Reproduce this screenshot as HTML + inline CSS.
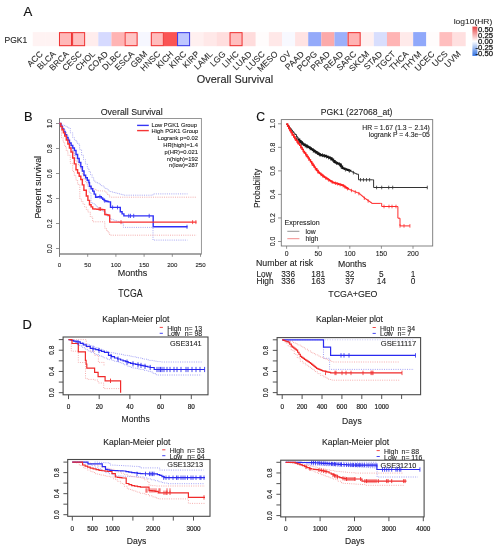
<!DOCTYPE html>
<html><head><meta charset="utf-8"><style>
html,body{margin:0;padding:0;background:#fff;width:496px;height:550px;overflow:hidden}
svg text{font-family:"Liberation Sans", sans-serif}
svg{filter:blur(0.3px)}
</style></head><body>
<svg width="496" height="550" viewBox="0 0 496 550" style="display:block" font-family='"Liberation Sans", sans-serif'><text x="23.60" y="15.60" font-size="13.2" text-anchor="start" fill="#111" stroke="#111" stroke-width="0.15">A</text>
<text x="4.50" y="42.50" font-size="8.5" text-anchor="start" fill="#222" stroke="#222" stroke-width="0.1">PGK1</text>
<rect x="32.70" y="32.10" width="13.17" height="14.10" fill="#fff3f3" stroke="none" stroke-width="1"/>
<rect x="45.82" y="32.10" width="13.17" height="14.10" fill="#fff3f3" stroke="none" stroke-width="1"/>
<rect x="58.94" y="32.10" width="13.17" height="14.10" fill="#ffb8b8" stroke="none" stroke-width="1"/>
<rect x="72.06" y="32.10" width="13.17" height="14.10" fill="#ffc0c0" stroke="none" stroke-width="1"/>
<rect x="85.18" y="32.10" width="13.17" height="14.10" fill="#ffeded" stroke="none" stroke-width="1"/>
<rect x="98.30" y="32.10" width="13.17" height="14.10" fill="#d6daff" stroke="none" stroke-width="1"/>
<rect x="111.42" y="32.10" width="13.17" height="14.10" fill="#ffb4b4" stroke="none" stroke-width="1"/>
<rect x="124.54" y="32.10" width="13.17" height="14.10" fill="#ffc4c4" stroke="none" stroke-width="1"/>
<rect x="137.66" y="32.10" width="13.17" height="14.10" fill="#f6f7ff" stroke="none" stroke-width="1"/>
<rect x="150.78" y="32.10" width="13.17" height="14.10" fill="#ffbcbc" stroke="none" stroke-width="1"/>
<rect x="163.90" y="32.10" width="13.17" height="14.10" fill="#fa5454" stroke="none" stroke-width="1"/>
<rect x="177.02" y="32.10" width="13.17" height="14.10" fill="#bec6ff" stroke="none" stroke-width="1"/>
<rect x="190.14" y="32.10" width="13.17" height="14.10" fill="#fff0f0" stroke="none" stroke-width="1"/>
<rect x="203.26" y="32.10" width="13.17" height="14.10" fill="#ffe8e8" stroke="none" stroke-width="1"/>
<rect x="216.38" y="32.10" width="13.17" height="14.10" fill="#ffdede" stroke="none" stroke-width="1"/>
<rect x="229.50" y="32.10" width="13.17" height="14.10" fill="#ffbebe" stroke="none" stroke-width="1"/>
<rect x="242.62" y="32.10" width="13.17" height="14.10" fill="#ffdcdc" stroke="none" stroke-width="1"/>
<rect x="255.74" y="32.10" width="13.17" height="14.10" fill="#fffcfc" stroke="none" stroke-width="1"/>
<rect x="268.86" y="32.10" width="13.17" height="14.10" fill="#ffe8e8" stroke="none" stroke-width="1"/>
<rect x="281.98" y="32.10" width="13.17" height="14.10" fill="#f8f9ff" stroke="none" stroke-width="1"/>
<rect x="295.10" y="32.10" width="13.17" height="14.10" fill="#ffe3e3" stroke="none" stroke-width="1"/>
<rect x="308.22" y="32.10" width="13.17" height="14.10" fill="#94aafa" stroke="none" stroke-width="1"/>
<rect x="321.34" y="32.10" width="13.17" height="14.10" fill="#fcaaaa" stroke="none" stroke-width="1"/>
<rect x="334.46" y="32.10" width="13.17" height="14.10" fill="#9cb0fa" stroke="none" stroke-width="1"/>
<rect x="347.58" y="32.10" width="13.17" height="14.10" fill="#ffb2b2" stroke="none" stroke-width="1"/>
<rect x="360.70" y="32.10" width="13.17" height="14.10" fill="#fff0f0" stroke="none" stroke-width="1"/>
<rect x="373.82" y="32.10" width="13.17" height="14.10" fill="#d8defd" stroke="none" stroke-width="1"/>
<rect x="386.94" y="32.10" width="13.17" height="14.10" fill="#ffb4b4" stroke="none" stroke-width="1"/>
<rect x="400.06" y="32.10" width="13.17" height="14.10" fill="#ffeaea" stroke="none" stroke-width="1"/>
<rect x="413.18" y="32.10" width="13.17" height="14.10" fill="#90a8fa" stroke="none" stroke-width="1"/>
<rect x="426.30" y="32.10" width="13.17" height="14.10" fill="#fffcfc" stroke="none" stroke-width="1"/>
<rect x="439.42" y="32.10" width="13.17" height="14.10" fill="#ffbebe" stroke="none" stroke-width="1"/>
<rect x="452.54" y="32.10" width="13.17" height="14.10" fill="#ffe0e0" stroke="none" stroke-width="1"/>
<rect x="59.49" y="32.65" width="12.02" height="13.00" fill="none" stroke="#ee3434" stroke-width="1.0"/>
<rect x="72.61" y="32.65" width="12.02" height="13.00" fill="none" stroke="#ee3434" stroke-width="1.0"/>
<rect x="125.09" y="32.65" width="12.02" height="13.00" fill="none" stroke="#ee3434" stroke-width="1.0"/>
<rect x="151.33" y="32.65" width="12.02" height="13.00" fill="none" stroke="#ee3434" stroke-width="1.0"/>
<rect x="177.57" y="32.65" width="12.02" height="13.00" fill="none" stroke="#3a3ae6" stroke-width="1.0"/>
<rect x="230.05" y="32.65" width="12.02" height="13.00" fill="none" stroke="#ee3434" stroke-width="1.0"/>
<rect x="348.13" y="32.65" width="12.02" height="13.00" fill="none" stroke="#ee3434" stroke-width="1.0"/>
<text x="43.26" y="54.60" font-size="8.5" text-anchor="end" fill="#2a2a2a" stroke="#2a2a2a" stroke-width="0.1" transform="rotate(-45 43.260000000000005 54.6)">ACC</text>
<text x="56.33" y="54.60" font-size="8.5" text-anchor="end" fill="#2a2a2a" stroke="#2a2a2a" stroke-width="0.1" transform="rotate(-45 56.325 54.6)">BLCA</text>
<text x="69.39" y="54.60" font-size="8.5" text-anchor="end" fill="#2a2a2a" stroke="#2a2a2a" stroke-width="0.1" transform="rotate(-45 69.39 54.6)">BRCA</text>
<text x="82.46" y="54.60" font-size="8.5" text-anchor="end" fill="#2a2a2a" stroke="#2a2a2a" stroke-width="0.1" transform="rotate(-45 82.45500000000001 54.6)">CESC</text>
<text x="95.52" y="54.60" font-size="8.5" text-anchor="end" fill="#2a2a2a" stroke="#2a2a2a" stroke-width="0.1" transform="rotate(-45 95.52000000000001 54.6)">CHOL</text>
<text x="108.59" y="54.60" font-size="8.5" text-anchor="end" fill="#2a2a2a" stroke="#2a2a2a" stroke-width="0.1" transform="rotate(-45 108.58500000000001 54.6)">COAD</text>
<text x="121.65" y="54.60" font-size="8.5" text-anchor="end" fill="#2a2a2a" stroke="#2a2a2a" stroke-width="0.1" transform="rotate(-45 121.65 54.6)">DLBC</text>
<text x="134.72" y="54.60" font-size="8.5" text-anchor="end" fill="#2a2a2a" stroke="#2a2a2a" stroke-width="0.1" transform="rotate(-45 134.715 54.6)">ESCA</text>
<text x="147.78" y="54.60" font-size="8.5" text-anchor="end" fill="#2a2a2a" stroke="#2a2a2a" stroke-width="0.1" transform="rotate(-45 147.78 54.6)">GBM</text>
<text x="160.84" y="54.60" font-size="8.5" text-anchor="end" fill="#2a2a2a" stroke="#2a2a2a" stroke-width="0.1" transform="rotate(-45 160.845 54.6)">HNSC</text>
<text x="173.91" y="54.60" font-size="8.5" text-anchor="end" fill="#2a2a2a" stroke="#2a2a2a" stroke-width="0.1" transform="rotate(-45 173.91000000000003 54.6)">KICH</text>
<text x="186.98" y="54.60" font-size="8.5" text-anchor="end" fill="#2a2a2a" stroke="#2a2a2a" stroke-width="0.1" transform="rotate(-45 186.97500000000002 54.6)">KIRC</text>
<text x="200.04" y="54.60" font-size="8.5" text-anchor="end" fill="#2a2a2a" stroke="#2a2a2a" stroke-width="0.1" transform="rotate(-45 200.04000000000002 54.6)">KIRP</text>
<text x="213.11" y="54.60" font-size="8.5" text-anchor="end" fill="#2a2a2a" stroke="#2a2a2a" stroke-width="0.1" transform="rotate(-45 213.10500000000002 54.6)">LAML</text>
<text x="226.17" y="54.60" font-size="8.5" text-anchor="end" fill="#2a2a2a" stroke="#2a2a2a" stroke-width="0.1" transform="rotate(-45 226.17000000000002 54.6)">LGG</text>
<text x="239.24" y="54.60" font-size="8.5" text-anchor="end" fill="#2a2a2a" stroke="#2a2a2a" stroke-width="0.1" transform="rotate(-45 239.235 54.6)">LIHC</text>
<text x="252.30" y="54.60" font-size="8.5" text-anchor="end" fill="#2a2a2a" stroke="#2a2a2a" stroke-width="0.1" transform="rotate(-45 252.3 54.6)">LUAD</text>
<text x="265.37" y="54.60" font-size="8.5" text-anchor="end" fill="#2a2a2a" stroke="#2a2a2a" stroke-width="0.1" transform="rotate(-45 265.365 54.6)">LUSC</text>
<text x="278.43" y="54.60" font-size="8.5" text-anchor="end" fill="#2a2a2a" stroke="#2a2a2a" stroke-width="0.1" transform="rotate(-45 278.43 54.6)">MESO</text>
<text x="291.50" y="54.60" font-size="8.5" text-anchor="end" fill="#2a2a2a" stroke="#2a2a2a" stroke-width="0.1" transform="rotate(-45 291.495 54.6)">OV</text>
<text x="304.56" y="54.60" font-size="8.5" text-anchor="end" fill="#2a2a2a" stroke="#2a2a2a" stroke-width="0.1" transform="rotate(-45 304.56 54.6)">PAAD</text>
<text x="317.62" y="54.60" font-size="8.5" text-anchor="end" fill="#2a2a2a" stroke="#2a2a2a" stroke-width="0.1" transform="rotate(-45 317.625 54.6)">PCPG</text>
<text x="330.69" y="54.60" font-size="8.5" text-anchor="end" fill="#2a2a2a" stroke="#2a2a2a" stroke-width="0.1" transform="rotate(-45 330.69 54.6)">PRAD</text>
<text x="343.75" y="54.60" font-size="8.5" text-anchor="end" fill="#2a2a2a" stroke="#2a2a2a" stroke-width="0.1" transform="rotate(-45 343.755 54.6)">READ</text>
<text x="356.82" y="54.60" font-size="8.5" text-anchor="end" fill="#2a2a2a" stroke="#2a2a2a" stroke-width="0.1" transform="rotate(-45 356.82 54.6)">SARC</text>
<text x="369.88" y="54.60" font-size="8.5" text-anchor="end" fill="#2a2a2a" stroke="#2a2a2a" stroke-width="0.1" transform="rotate(-45 369.885 54.6)">SKCM</text>
<text x="382.95" y="54.60" font-size="8.5" text-anchor="end" fill="#2a2a2a" stroke="#2a2a2a" stroke-width="0.1" transform="rotate(-45 382.95 54.6)">STAD</text>
<text x="396.01" y="54.60" font-size="8.5" text-anchor="end" fill="#2a2a2a" stroke="#2a2a2a" stroke-width="0.1" transform="rotate(-45 396.015 54.6)">TGCT</text>
<text x="409.08" y="54.60" font-size="8.5" text-anchor="end" fill="#2a2a2a" stroke="#2a2a2a" stroke-width="0.1" transform="rotate(-45 409.08 54.6)">THCA</text>
<text x="422.14" y="54.60" font-size="8.5" text-anchor="end" fill="#2a2a2a" stroke="#2a2a2a" stroke-width="0.1" transform="rotate(-45 422.145 54.6)">THYM</text>
<text x="435.21" y="54.60" font-size="8.5" text-anchor="end" fill="#2a2a2a" stroke="#2a2a2a" stroke-width="0.1" transform="rotate(-45 435.21 54.6)">UCEC</text>
<text x="448.27" y="54.60" font-size="8.5" text-anchor="end" fill="#2a2a2a" stroke="#2a2a2a" stroke-width="0.1" transform="rotate(-45 448.275 54.6)">UCS</text>
<text x="461.34" y="54.60" font-size="8.5" text-anchor="end" fill="#2a2a2a" stroke="#2a2a2a" stroke-width="0.1" transform="rotate(-45 461.34 54.6)">UVM</text>
<text x="235.00" y="83.40" font-size="10.9" text-anchor="middle" fill="#222" stroke="#222" stroke-width="0.1">Overall Survival</text>
<defs><linearGradient id="cb" x1="0" y1="0" x2="0" y2="1"><stop offset="0" stop-color="#e64646"/><stop offset="0.5" stop-color="#ffffff"/><stop offset="1" stop-color="#2e6fe0"/></linearGradient></defs>
<rect x="472.40" y="26.60" width="5.00" height="29.30" fill="url(#cb)" stroke="none" stroke-width="1"/>
<text x="492.30" y="23.60" font-size="8.0" text-anchor="end" fill="#2a2a2a" stroke="#2a2a2a" stroke-width="0.1" textLength="38.6" lengthAdjust="spacingAndGlyphs">log10(HR)</text>
<text x="493.00" y="32.00" font-size="7.7" text-anchor="end" fill="#111" stroke="#111" stroke-width="0.25">0.50</text>
<text x="493.00" y="37.95" font-size="7.7" text-anchor="end" fill="#111" stroke="#111" stroke-width="0.25">0.25</text>
<text x="493.00" y="43.90" font-size="7.7" text-anchor="end" fill="#111" stroke="#111" stroke-width="0.25">0.00</text>
<text x="493.00" y="49.85" font-size="7.7" text-anchor="end" fill="#111" stroke="#111" stroke-width="0.25">-0.25</text>
<text x="493.00" y="55.80" font-size="7.7" text-anchor="end" fill="#111" stroke="#111" stroke-width="0.25">-0.50</text>
<text x="23.90" y="120.60" font-size="12.8" text-anchor="start" fill="#111" stroke="#111" stroke-width="0.15">B</text>
<text x="131.70" y="115.00" font-size="8.85" text-anchor="middle" fill="#222" stroke="#222" stroke-width="0.1">Overall Survival</text>
<rect x="59.50" y="118.50" width="141.90" height="135.50" fill="none" stroke="#8c8c8c" stroke-width="0.9"/>
<line x1="59.50" y1="254.10" x2="201.40" y2="254.10" stroke="#9a9a9a" stroke-width="1.5"/>
<line x1="59.50" y1="118.50" x2="59.50" y2="256.80" stroke="#777" stroke-width="0.9"/>
<line x1="56.00" y1="248.50" x2="59.50" y2="248.50" stroke="#777" stroke-width="0.8"/>
<text x="51.50" y="248.50" font-size="6.3" text-anchor="middle" fill="#222" stroke="#222" stroke-width="0.1" transform="rotate(-90 51.5 248.5)">0.0</text>
<line x1="56.00" y1="223.50" x2="59.50" y2="223.50" stroke="#777" stroke-width="0.8"/>
<text x="51.50" y="223.50" font-size="6.3" text-anchor="middle" fill="#222" stroke="#222" stroke-width="0.1" transform="rotate(-90 51.5 223.5)">0.2</text>
<line x1="56.00" y1="198.50" x2="59.50" y2="198.50" stroke="#777" stroke-width="0.8"/>
<text x="51.50" y="198.50" font-size="6.3" text-anchor="middle" fill="#222" stroke="#222" stroke-width="0.1" transform="rotate(-90 51.5 198.5)">0.4</text>
<line x1="56.00" y1="173.50" x2="59.50" y2="173.50" stroke="#777" stroke-width="0.8"/>
<text x="51.50" y="173.50" font-size="6.3" text-anchor="middle" fill="#222" stroke="#222" stroke-width="0.1" transform="rotate(-90 51.5 173.5)">0.6</text>
<line x1="56.00" y1="148.50" x2="59.50" y2="148.50" stroke="#777" stroke-width="0.8"/>
<text x="51.50" y="148.50" font-size="6.3" text-anchor="middle" fill="#222" stroke="#222" stroke-width="0.1" transform="rotate(-90 51.5 148.5)">0.8</text>
<line x1="56.00" y1="123.50" x2="59.50" y2="123.50" stroke="#777" stroke-width="0.8"/>
<text x="51.50" y="123.50" font-size="6.3" text-anchor="middle" fill="#222" stroke="#222" stroke-width="0.1" transform="rotate(-90 51.5 123.5)">1.0</text>
<line x1="59.50" y1="254.00" x2="59.50" y2="256.80" stroke="#777" stroke-width="0.8"/>
<text x="59.50" y="266.90" font-size="6.1" text-anchor="middle" fill="#222" stroke="#222" stroke-width="0.1">0</text>
<line x1="87.70" y1="254.00" x2="87.70" y2="256.80" stroke="#777" stroke-width="0.8"/>
<text x="87.70" y="266.90" font-size="6.1" text-anchor="middle" fill="#222" stroke="#222" stroke-width="0.1">50</text>
<line x1="115.90" y1="254.00" x2="115.90" y2="256.80" stroke="#777" stroke-width="0.8"/>
<text x="115.90" y="266.90" font-size="6.1" text-anchor="middle" fill="#222" stroke="#222" stroke-width="0.1">100</text>
<line x1="144.10" y1="254.00" x2="144.10" y2="256.80" stroke="#777" stroke-width="0.8"/>
<text x="144.10" y="266.90" font-size="6.1" text-anchor="middle" fill="#222" stroke="#222" stroke-width="0.1">150</text>
<line x1="172.30" y1="254.00" x2="172.30" y2="256.80" stroke="#777" stroke-width="0.8"/>
<text x="172.30" y="266.90" font-size="6.1" text-anchor="middle" fill="#222" stroke="#222" stroke-width="0.1">200</text>
<line x1="200.50" y1="254.00" x2="200.50" y2="256.80" stroke="#777" stroke-width="0.8"/>
<text x="200.50" y="266.90" font-size="6.1" text-anchor="middle" fill="#222" stroke="#222" stroke-width="0.1">250</text>
<text x="41.00" y="187.30" font-size="8.8" text-anchor="middle" fill="#222" stroke="#222" stroke-width="0.1" transform="rotate(-90 41 187.3)">Percent survival</text>
<text x="132.40" y="276.00" font-size="9.0" text-anchor="middle" fill="#222" stroke="#222" stroke-width="0.1">Months</text>
<text x="130.40" y="297.20" font-size="10.0" text-anchor="middle" fill="#222" stroke="#222" stroke-width="0.1" textLength="24.2" lengthAdjust="spacingAndGlyphs">TCGA</text>
<path d="M59.50,123.50 H61.18 V124.38 H62.86 V125.26 H64.54 V126.14 H66.22 V127.02 H67.90 V127.90 H70.30 V132.75 H72.70 V137.60 H74.33 V139.73 H75.97 V141.87 H77.60 V144.00 H79.60 V149.65 H81.60 V155.30 H83.50 V159.60 H85.40 V163.90 H87.30 V168.20 H88.90 V171.42 H90.50 V174.65 H92.10 V177.88 H93.70 V181.10 H95.60 V182.20 H97.50 V183.30 H99.40 V184.40 H101.30 V185.74 H103.20 V187.08 H105.10 V188.42 H107.00 V189.76 H108.90 V191.10 H110.51 V191.56 H112.12 V192.01 H113.73 V192.47 H115.34 V192.92 H116.96 V193.38 H118.57 V193.83 H120.18 V194.29 H121.79 V194.74 H123.40 V195.20 H153.00 V195.20 H153.00 V193.90 H187.50 V193.90" fill="none" stroke="#a0a0f2" stroke-width="0.9" stroke-dasharray="1,1.2"/>
<path d="M59.50,123.50 H61.23 V126.03 H62.97 V128.57 H64.70 V131.10 H66.30 V135.30 H67.90 V139.50 H69.50 V143.70 H71.10 V147.90 H72.70 V152.10 H74.32 V155.32 H75.94 V158.54 H77.56 V161.76 H79.18 V164.98 H80.80 V168.20 H82.42 V171.82 H84.05 V175.45 H85.67 V179.07 H87.30 V182.70 H89.15 V192.55 H91.00 V202.40 H92.62 V203.60 H94.25 V204.80 H95.88 V206.00 H97.50 V207.20 H99.12 V208.40 H100.75 V209.60 H102.38 V210.80 H104.00 V212.00 H105.90 V214.17 H107.80 V216.33 H109.70 V218.50 H111.43 V219.20 H113.16 V219.90 H114.89 V220.60 H116.61 V221.30 H118.34 V222.00 H120.07 V222.70 H121.80 V223.40 H123.40 V227.40 H153.00 V227.40 H153.00 V240.10 H187.50 V240.10" fill="none" stroke="#a0a0f2" stroke-width="0.9" stroke-dasharray="1,1.2"/>
<path d="M59.50,123.50 H61.23 V126.57 H62.97 V129.63 H64.70 V132.70 H66.83 V138.10 H68.97 V143.50 H71.10 V148.90 H72.73 V153.20 H74.37 V157.50 H76.00 V161.80 H78.40 V165.80 H80.80 V169.80 H82.40 V174.65 H84.00 V179.50 H85.65 V182.75 H87.30 V186.00 H88.90 V186.80 H90.50 V187.60 H92.10 V188.40 H93.70 V189.20 H95.30 V190.00 H96.90 V190.80 H98.68 V190.85 H100.45 V190.90 H102.22 V190.95 H104.00 V191.00 H105.90 V193.07 H107.80 V195.13 H109.70 V197.20 H196.50 V197.20" fill="none" stroke="#f2a4a4" stroke-width="0.9" stroke-dasharray="1,1.2"/>
<path d="M59.50,123.50 H61.50 V137.60 H63.10 V142.03 H64.70 V146.45 H66.30 V150.88 H67.90 V155.30 H70.30 V163.40 H72.70 V171.50 H74.33 V175.80 H75.97 V180.10 H77.60 V184.40 H79.80 V199.00 H81.42 V201.60 H83.04 V204.20 H84.66 V206.80 H86.28 V209.40 H87.90 V212.00 H90.30 V216.90 H92.70 V221.80 H104.00 V221.80 H104.80 V228.20 H106.43 V230.53 H108.07 V232.87 H109.70 V235.20 H196.50 V235.20" fill="none" stroke="#f2a4a4" stroke-width="0.9" stroke-dasharray="1,1.2"/>
<path d="M59.50,123.50 H60.93 V126.29 H62.36 V129.07 H63.79 V131.86 H65.21 V134.64 H66.64 V137.43 H68.07 V140.21 H69.50 V143.00 H71.13 V145.50 H72.77 V148.00 H74.40 V150.50 H76.00 V154.47 H77.60 V158.43 H79.20 V162.40 H80.80 V166.70 H82.40 V171.00 H84.00 V175.30 H85.63 V177.77 H87.27 V180.23 H88.90 V182.70 H89.50 V186.30 H91.10 V188.70 H92.70 V191.10 H94.15 V194.15 H95.60 V197.20 H97.03 V197.00 H98.47 V196.80 H99.90 V196.60 H101.30 V197.93 H102.70 V199.27 H104.10 V200.60 H105.50 V201.03 H106.90 V201.47 H108.30 V201.90 H110.50 V207.40 H118.90 V207.40 H120.30 V211.80 H122.10 V213.85 H123.90 V215.90 H153.20 V215.90 H153.20 V226.80 H187.50 V226.80" fill="none" stroke="#3030f6" stroke-width="1.4"/>
<path d="M59.50,123.50 H60.80 V126.62 H62.10 V129.75 H63.40 V132.88 H64.70 V136.00 H66.28 V140.00 H67.85 V144.00 H69.42 V148.00 H71.00 V152.00 H72.67 V157.93 H74.33 V163.87 H76.00 V169.80 H77.60 V173.03 H79.20 V176.27 H80.80 V179.50 H82.35 V184.90 H83.90 V190.30 H86.30 V196.00 H87.90 V200.40 H89.50 V204.80 H91.10 V206.85 H92.70 V208.90 H94.11 V209.00 H95.53 V209.10 H96.94 V209.20 H98.35 V209.30 H99.76 V209.40 H101.17 V209.50 H102.59 V209.60 H104.00 V209.70 H104.80 V214.50 H106.17 V214.77 H107.53 V215.03 H108.90 V215.30 H109.70 V222.10 H196.50 V222.10" fill="none" stroke="#f83030" stroke-width="1.4"/>
<line x1="128.80" y1="213.80" x2="128.80" y2="218.00" stroke="#3030f6" stroke-width="0.8"/>
<line x1="130.50" y1="213.80" x2="130.50" y2="218.00" stroke="#3030f6" stroke-width="0.8"/>
<line x1="133.70" y1="213.80" x2="133.70" y2="218.00" stroke="#3030f6" stroke-width="0.8"/>
<line x1="149.20" y1="213.80" x2="149.20" y2="218.00" stroke="#3030f6" stroke-width="0.8"/>
<line x1="99.90" y1="194.60" x2="99.90" y2="198.60" stroke="#3030f6" stroke-width="0.8"/>
<line x1="104.80" y1="198.80" x2="104.80" y2="202.80" stroke="#3030f6" stroke-width="0.8"/>
<line x1="112.60" y1="205.40" x2="112.60" y2="209.40" stroke="#3030f6" stroke-width="0.8"/>
<line x1="117.50" y1="205.40" x2="117.50" y2="209.40" stroke="#3030f6" stroke-width="0.8"/>
<line x1="187.00" y1="224.80" x2="187.00" y2="228.80" stroke="#3030f6" stroke-width="0.8"/>
<line x1="99.20" y1="207.00" x2="99.20" y2="211.00" stroke="#f83030" stroke-width="0.8"/>
<line x1="100.60" y1="207.00" x2="100.60" y2="211.00" stroke="#f83030" stroke-width="0.8"/>
<line x1="121.00" y1="220.10" x2="121.00" y2="224.10" stroke="#f83030" stroke-width="0.8"/>
<line x1="192.60" y1="220.10" x2="192.60" y2="224.10" stroke="#f83030" stroke-width="0.8"/>
<line x1="195.90" y1="220.10" x2="195.90" y2="224.10" stroke="#f83030" stroke-width="0.8"/>
<line x1="137.10" y1="125.40" x2="148.80" y2="125.40" stroke="#3535f5" stroke-width="1.4"/>
<line x1="137.10" y1="130.60" x2="148.80" y2="130.60" stroke="#f53535" stroke-width="1.4"/>
<text x="151.60" y="127.40" font-size="5.8" text-anchor="start" fill="#222" stroke="#222" stroke-width="0.1">Low PGK1 Group</text>
<text x="151.60" y="132.80" font-size="5.8" text-anchor="start" fill="#222" stroke="#222" stroke-width="0.1">High PGK1 Group</text>
<text x="197.90" y="139.70" font-size="5.8" text-anchor="end" fill="#222" stroke="#222" stroke-width="0.1">Logrank p=0.02</text>
<text x="197.90" y="146.80" font-size="5.8" text-anchor="end" fill="#222" stroke="#222" stroke-width="0.1">HR(high)=1.4</text>
<text x="197.90" y="153.60" font-size="5.8" text-anchor="end" fill="#222" stroke="#222" stroke-width="0.1">p(HR)=0.021</text>
<text x="197.90" y="160.70" font-size="5.8" text-anchor="end" fill="#222" stroke="#222" stroke-width="0.1">n(high)=192</text>
<text x="197.90" y="167.30" font-size="5.8" text-anchor="end" fill="#222" stroke="#222" stroke-width="0.1">n(low)=287</text>
<text x="256.20" y="121.30" font-size="12.2" text-anchor="start" fill="#111" stroke="#111" stroke-width="0.15">C</text>
<text x="356.60" y="114.90" font-size="8.6" text-anchor="middle" fill="#222" stroke="#222" stroke-width="0.1">PGK1 (227068_at)</text>
<rect x="281.30" y="119.60" width="151.40" height="126.40" fill="none" stroke="#777" stroke-width="0.9"/>
<line x1="278.00" y1="241.50" x2="281.30" y2="241.50" stroke="#777" stroke-width="0.8"/>
<text x="274.60" y="241.50" font-size="6.9" text-anchor="middle" fill="#222" stroke="#222" stroke-width="0.1" transform="rotate(-90 274.6 241.5)">0.0</text>
<line x1="278.00" y1="217.96" x2="281.30" y2="217.96" stroke="#777" stroke-width="0.8"/>
<text x="274.60" y="217.96" font-size="6.9" text-anchor="middle" fill="#222" stroke="#222" stroke-width="0.1" transform="rotate(-90 274.6 217.96)">0.2</text>
<line x1="278.00" y1="194.42" x2="281.30" y2="194.42" stroke="#777" stroke-width="0.8"/>
<text x="274.60" y="194.42" font-size="6.9" text-anchor="middle" fill="#222" stroke="#222" stroke-width="0.1" transform="rotate(-90 274.6 194.42000000000002)">0.4</text>
<line x1="278.00" y1="170.88" x2="281.30" y2="170.88" stroke="#777" stroke-width="0.8"/>
<text x="274.60" y="170.88" font-size="6.9" text-anchor="middle" fill="#222" stroke="#222" stroke-width="0.1" transform="rotate(-90 274.6 170.88)">0.6</text>
<line x1="278.00" y1="147.34" x2="281.30" y2="147.34" stroke="#777" stroke-width="0.8"/>
<text x="274.60" y="147.34" font-size="6.9" text-anchor="middle" fill="#222" stroke="#222" stroke-width="0.1" transform="rotate(-90 274.6 147.34)">0.8</text>
<line x1="278.00" y1="123.80" x2="281.30" y2="123.80" stroke="#777" stroke-width="0.8"/>
<text x="274.60" y="123.80" font-size="6.9" text-anchor="middle" fill="#222" stroke="#222" stroke-width="0.1" transform="rotate(-90 274.6 123.80000000000001)">1.0</text>
<line x1="286.60" y1="246.00" x2="286.60" y2="248.80" stroke="#777" stroke-width="0.8"/>
<text x="286.60" y="256.00" font-size="6.8" text-anchor="middle" fill="#222" stroke="#222" stroke-width="0.1">0</text>
<line x1="318.20" y1="246.00" x2="318.20" y2="248.80" stroke="#777" stroke-width="0.8"/>
<text x="318.20" y="256.00" font-size="6.8" text-anchor="middle" fill="#222" stroke="#222" stroke-width="0.1">50</text>
<line x1="349.80" y1="246.00" x2="349.80" y2="248.80" stroke="#777" stroke-width="0.8"/>
<text x="349.80" y="256.00" font-size="6.8" text-anchor="middle" fill="#222" stroke="#222" stroke-width="0.1">100</text>
<line x1="381.40" y1="246.00" x2="381.40" y2="248.80" stroke="#777" stroke-width="0.8"/>
<text x="381.40" y="256.00" font-size="6.8" text-anchor="middle" fill="#222" stroke="#222" stroke-width="0.1">150</text>
<line x1="413.00" y1="246.00" x2="413.00" y2="248.80" stroke="#777" stroke-width="0.8"/>
<text x="413.00" y="256.00" font-size="6.8" text-anchor="middle" fill="#222" stroke="#222" stroke-width="0.1">200</text>
<text x="260.00" y="188.40" font-size="8.4" text-anchor="middle" fill="#222" stroke="#222" stroke-width="0.1" transform="rotate(-90 260.0 188.4)">Probability</text>
<text x="429.90" y="129.60" font-size="6.8" text-anchor="end" fill="#222" stroke="#222" stroke-width="0.1">HR = 1.67 (1.3 − 2.14)</text>
<text x="429.90" y="136.60" font-size="6.8" text-anchor="end" fill="#222" stroke="#222" stroke-width="0.1">logrank P = 4.3e−05</text>
<text x="284.60" y="224.50" font-size="7.1" text-anchor="start" fill="#222" stroke="#222" stroke-width="0.1">Expression</text>
<line x1="287.30" y1="231.30" x2="299.40" y2="231.30" stroke="#888" stroke-width="0.9"/>
<line x1="287.30" y1="238.70" x2="299.40" y2="238.70" stroke="#f08080" stroke-width="0.9"/>
<text x="305.40" y="233.60" font-size="6.8" text-anchor="start" fill="#222" stroke="#222" stroke-width="0.1">low</text>
<text x="305.40" y="241.30" font-size="6.8" text-anchor="start" fill="#222" stroke="#222" stroke-width="0.1">high</text>
<text x="256.00" y="265.60" font-size="8.8" text-anchor="start" fill="#222" stroke="#222" stroke-width="0.1">Number at risk</text>
<text x="352.20" y="266.90" font-size="8.7" text-anchor="middle" fill="#222" stroke="#222" stroke-width="0.1">Months</text>
<text x="256.50" y="276.60" font-size="8.3" text-anchor="start" fill="#222" stroke="#222" stroke-width="0.1">Low</text>
<text x="256.50" y="284.40" font-size="8.3" text-anchor="start" fill="#222" stroke="#222" stroke-width="0.1">High</text>
<text x="288.10" y="276.90" font-size="8.3" text-anchor="middle" fill="#222" stroke="#222" stroke-width="0.1">336</text>
<text x="288.10" y="284.30" font-size="8.3" text-anchor="middle" fill="#222" stroke="#222" stroke-width="0.1">336</text>
<text x="318.20" y="276.90" font-size="8.3" text-anchor="middle" fill="#222" stroke="#222" stroke-width="0.1">181</text>
<text x="318.20" y="284.30" font-size="8.3" text-anchor="middle" fill="#222" stroke="#222" stroke-width="0.1">163</text>
<text x="349.80" y="276.90" font-size="8.3" text-anchor="middle" fill="#222" stroke="#222" stroke-width="0.1">32</text>
<text x="349.80" y="284.30" font-size="8.3" text-anchor="middle" fill="#222" stroke="#222" stroke-width="0.1">37</text>
<text x="381.40" y="276.90" font-size="8.3" text-anchor="middle" fill="#222" stroke="#222" stroke-width="0.1">5</text>
<text x="381.40" y="284.30" font-size="8.3" text-anchor="middle" fill="#222" stroke="#222" stroke-width="0.1">14</text>
<text x="413.00" y="276.90" font-size="8.3" text-anchor="middle" fill="#222" stroke="#222" stroke-width="0.1">1</text>
<text x="413.00" y="284.30" font-size="8.3" text-anchor="middle" fill="#222" stroke="#222" stroke-width="0.1">0</text>
<text x="352.90" y="297.40" font-size="8.8" text-anchor="middle" fill="#222" stroke="#222" stroke-width="0.1">TCGA+GEO</text>
<path d="M286.40,124.20 H287.62 V126.32 H288.83 V128.43 H290.05 V130.55 H291.27 V132.67 H292.48 V134.78 H293.70 V136.90 H294.90 V138.60 H296.10 V140.30 H297.30 V142.00 H298.50 V143.70 H299.70 V145.40 H300.90 V147.40 H302.10 V149.40 H303.30 V151.40 H304.50 V153.07 H305.70 V154.75 H306.90 V156.43 H308.10 V158.10 H309.30 V159.90 H310.50 V161.70 H311.70 V163.50 H312.90 V165.30 H314.10 V167.10 H315.43 V168.80 H316.77 V170.50 H318.10 V172.20 H319.32 V173.20 H320.54 V174.20 H321.76 V175.20 H322.98 V176.20 H324.20 V177.20 H325.55 V178.05 H326.90 V178.90 H328.25 V179.75 H329.60 V180.60 H330.95 V181.45 H332.30 V182.30 H333.55 V182.68 H334.80 V183.05 H336.05 V183.43 H337.30 V183.80 H338.55 V184.18 H339.80 V184.55 H341.05 V184.93 H342.30 V185.30 H343.52 V186.10 H344.74 V186.90 H345.96 V187.70 H347.18 V188.50 H348.40 V189.30 H349.66 V189.80 H350.92 V190.30 H352.19 V190.80 H353.45 V191.30 H354.71 V191.80 H355.98 V192.30 H357.24 V192.80 H358.50 V193.30 H359.70 V194.32 H360.90 V195.34 H362.10 V196.36 H363.30 V197.38 H364.50 V198.40 H365.92 V199.40 H367.34 V200.40 H368.76 V201.40 H370.18 V202.40 H371.60 V203.40 H380.60 V203.40 H381.70 V206.50 H396.80 V206.50 H397.90 V218.20 H400.00 V225.90 H409.90 V225.90" fill="none" stroke="#ff2a2a" stroke-width="1.0"/>
<path d="M286.40,124.20 H287.62 V126.32 H288.83 V128.43 H290.05 V130.55 H291.27 V132.67 H292.48 V134.78 H293.70 V136.90 H294.90 V138.60 H296.10 V140.30 H297.30 V142.00 H298.50 V143.70 H299.70 V145.40 H300.90 V147.40 H302.10 V149.40 H303.30 V151.40 H304.50 V153.07 H305.70 V154.75 H306.90 V156.43 H308.10 V158.10 H309.30 V159.90 H310.50 V161.70 H311.70 V163.50 H312.90 V165.30 H314.10 V167.10 H315.43 V168.80 H316.77 V170.50 H318.10 V172.20 H319.32 V173.20 H320.54 V174.20 H321.76 V175.20 H322.98 V176.20 H324.20 V177.20 H325.55 V178.05 H326.90 V178.90 H328.25 V179.75 H329.60 V180.60 H330.95 V181.45 H332.30 V182.30 H333.55 V182.68 H334.80 V183.05 H336.05 V183.43 H337.30 V183.80 H338.55 V184.18 H339.80 V184.55 H341.05 V184.93 H342.30 V185.30 H343.52 V186.10 H344.74 V186.90 H345.96 V187.70 H347.18 V188.50 H348.40 V189.30" fill="none" stroke="#ff1a1a" stroke-width="1.4"/>
<path d="M286.40,124.20 H287.60 V125.63 H288.80 V127.07 H290.00 V128.50 H291.23 V130.00 H292.45 V131.50 H293.67 V133.00 H294.90 V134.50 H296.45 V137.00 H298.00 V139.50 H299.37 V140.87 H300.73 V142.23 H302.10 V143.60 H303.32 V144.32 H304.54 V145.04 H305.76 V145.76 H306.98 V146.48 H308.20 V147.20 H309.64 V148.16 H311.08 V149.12 H312.52 V150.08 H313.96 V151.04 H315.40 V152.00 H316.60 V152.75 H317.80 V153.50 H319.00 V154.25 H320.20 V155.00 H321.43 V155.25 H322.65 V155.50 H323.88 V155.75 H325.10 V156.00 H326.38 V156.53 H327.65 V157.05 H328.93 V157.57 H330.20 V158.10 H331.73 V159.50 H333.27 V160.90 H334.80 V162.30 H336.00 V162.85 H337.20 V163.40 H338.40 V163.95 H339.60 V164.50 H340.95 V166.30 H342.30 V168.10 H343.65 V168.62 H345.00 V169.13 H346.35 V169.65 H347.70 V170.17 H349.05 V170.68 H350.40 V171.20 H351.62 V171.80 H352.84 V172.40 H354.06 V173.00 H355.28 V173.60 H356.50 V174.20 H358.50 V179.80 H372.60 V179.80 H373.60 V187.50 H427.30 V187.50" fill="none" stroke="#333" stroke-width="1.0"/>
<path d="M298.00,139.50 H299.37 V140.87 H300.73 V142.23 H302.10 V143.60 H303.32 V144.32 H304.54 V145.04 H305.76 V145.76 H306.98 V146.48 H308.20 V147.20 H309.64 V148.16 H311.08 V149.12 H312.52 V150.08 H313.96 V151.04 H315.40 V152.00 H316.60 V152.75 H317.80 V153.50 H319.00 V154.25 H320.20 V155.00 H321.43 V155.25 H322.65 V155.50 H323.88 V155.75 H325.10 V156.00 H326.38 V156.53 H327.65 V157.05 H328.93 V157.57 H330.20 V158.10 H331.73 V159.50 H333.27 V160.90 H334.80 V162.30 H336.00 V162.85 H337.20 V163.40 H338.40 V163.95 H339.60 V164.50 H340.95 V166.30 H342.30 V168.10 H343.65 V168.62 H345.00 V169.13 H346.35 V169.65 H347.70 V170.17 H349.05 V170.68 H350.40 V171.20" fill="none" stroke="#111" stroke-width="1.8"/>
<path d="M286.40,124.20 H287.62 V126.32 H288.83 V128.43 H290.05 V130.55 H291.27 V132.67 H292.48 V134.78 H293.70 V136.90 H294.90 V138.60 H296.10 V140.30 H297.30 V142.00 H298.50 V143.70 H299.70 V145.40" fill="none" stroke="#ff2020" stroke-width="1.3"/>
<line x1="297.00" y1="135.88" x2="297.00" y2="139.58" stroke="#222" stroke-width="0.8"/>
<line x1="299.64" y1="138.98" x2="299.64" y2="143.06" stroke="#222" stroke-width="0.8"/>
<line x1="301.83" y1="141.16" x2="301.83" y2="145.23" stroke="#222" stroke-width="0.8"/>
<line x1="303.49" y1="142.48" x2="303.49" y2="146.06" stroke="#222" stroke-width="0.8"/>
<line x1="305.23" y1="143.50" x2="305.23" y2="147.54" stroke="#222" stroke-width="0.8"/>
<line x1="307.03" y1="144.44" x2="307.03" y2="148.49" stroke="#222" stroke-width="0.8"/>
<line x1="310.15" y1="146.64" x2="310.15" y2="150.34" stroke="#222" stroke-width="0.8"/>
<line x1="313.31" y1="148.43" x2="313.31" y2="152.72" stroke="#222" stroke-width="0.8"/>
<line x1="315.37" y1="149.87" x2="315.37" y2="153.65" stroke="#222" stroke-width="0.8"/>
<line x1="317.47" y1="151.58" x2="317.47" y2="155.00" stroke="#222" stroke-width="0.8"/>
<line x1="320.00" y1="153.06" x2="320.00" y2="156.70" stroke="#222" stroke-width="0.8"/>
<line x1="322.47" y1="153.30" x2="322.47" y2="157.10" stroke="#222" stroke-width="0.8"/>
<line x1="324.40" y1="154.07" x2="324.40" y2="157.71" stroke="#222" stroke-width="0.8"/>
<line x1="326.50" y1="154.73" x2="326.50" y2="158.45" stroke="#222" stroke-width="0.8"/>
<line x1="328.58" y1="155.71" x2="328.58" y2="159.45" stroke="#222" stroke-width="0.8"/>
<line x1="330.57" y1="156.59" x2="330.57" y2="160.36" stroke="#222" stroke-width="0.8"/>
<line x1="333.57" y1="159.42" x2="333.57" y2="162.95" stroke="#222" stroke-width="0.8"/>
<line x1="336.74" y1="161.06" x2="336.74" y2="165.04" stroke="#222" stroke-width="0.8"/>
<line x1="339.55" y1="162.37" x2="339.55" y2="166.37" stroke="#222" stroke-width="0.8"/>
<line x1="341.22" y1="164.86" x2="341.22" y2="168.71" stroke="#222" stroke-width="0.8"/>
<line x1="292.00" y1="132.24" x2="292.00" y2="135.64" stroke="#ff3030" stroke-width="0.8"/>
<line x1="295.29" y1="137.45" x2="295.29" y2="140.85" stroke="#ff3030" stroke-width="0.8"/>
<line x1="297.62" y1="140.76" x2="297.62" y2="144.16" stroke="#ff3030" stroke-width="0.8"/>
<line x1="300.60" y1="145.21" x2="300.60" y2="148.61" stroke="#ff3030" stroke-width="0.8"/>
<line x1="303.41" y1="149.86" x2="303.41" y2="153.26" stroke="#ff3030" stroke-width="0.8"/>
<line x1="306.20" y1="153.75" x2="306.20" y2="157.15" stroke="#ff3030" stroke-width="0.8"/>
<line x1="308.78" y1="157.41" x2="308.78" y2="160.81" stroke="#ff3030" stroke-width="0.8"/>
<line x1="312.00" y1="162.26" x2="312.00" y2="165.66" stroke="#ff3030" stroke-width="0.8"/>
<line x1="315.41" y1="167.07" x2="315.41" y2="170.47" stroke="#ff3030" stroke-width="0.8"/>
<line x1="318.02" y1="170.39" x2="318.02" y2="173.79" stroke="#ff3030" stroke-width="0.8"/>
<line x1="320.94" y1="172.83" x2="320.94" y2="176.23" stroke="#ff3030" stroke-width="0.8"/>
<line x1="322.85" y1="174.39" x2="322.85" y2="177.79" stroke="#ff3030" stroke-width="0.8"/>
<line x1="325.84" y1="176.53" x2="325.84" y2="179.93" stroke="#ff3030" stroke-width="0.8"/>
<line x1="328.74" y1="178.36" x2="328.74" y2="181.76" stroke="#ff3030" stroke-width="0.8"/>
<line x1="332.23" y1="180.55" x2="332.23" y2="183.95" stroke="#ff3030" stroke-width="0.8"/>
<line x1="335.43" y1="181.54" x2="335.43" y2="184.94" stroke="#ff3030" stroke-width="0.8"/>
<line x1="337.71" y1="182.22" x2="337.71" y2="185.62" stroke="#ff3030" stroke-width="0.8"/>
<line x1="340.17" y1="182.96" x2="340.17" y2="186.36" stroke="#ff3030" stroke-width="0.8"/>
<line x1="343.10" y1="184.13" x2="343.10" y2="187.53" stroke="#ff3030" stroke-width="0.8"/>
<line x1="344.94" y1="185.33" x2="344.94" y2="188.73" stroke="#ff3030" stroke-width="0.8"/>
<line x1="347.53" y1="187.03" x2="347.53" y2="190.43" stroke="#ff3030" stroke-width="0.8"/>
<line x1="351.45" y1="188.81" x2="351.45" y2="192.21" stroke="#ff3030" stroke-width="0.8"/>
<line x1="355.24" y1="190.31" x2="355.24" y2="193.71" stroke="#ff3030" stroke-width="0.8"/>
<line x1="358.89" y1="191.93" x2="358.89" y2="195.33" stroke="#ff3030" stroke-width="0.8"/>
<line x1="364.31" y1="196.54" x2="364.31" y2="199.94" stroke="#ff3030" stroke-width="0.8"/>
<line x1="368.13" y1="199.26" x2="368.13" y2="202.66" stroke="#ff3030" stroke-width="0.8"/>
<line x1="345.40" y1="167.90" x2="345.40" y2="171.50" stroke="#333" stroke-width="0.8"/>
<line x1="349.40" y1="169.10" x2="349.40" y2="172.70" stroke="#333" stroke-width="0.8"/>
<line x1="353.40" y1="170.90" x2="353.40" y2="174.50" stroke="#333" stroke-width="0.8"/>
<line x1="360.50" y1="178.00" x2="360.50" y2="181.60" stroke="#333" stroke-width="0.8"/>
<line x1="363.50" y1="178.00" x2="363.50" y2="181.60" stroke="#333" stroke-width="0.8"/>
<line x1="366.50" y1="178.00" x2="366.50" y2="181.60" stroke="#333" stroke-width="0.8"/>
<line x1="369.60" y1="178.00" x2="369.60" y2="181.60" stroke="#333" stroke-width="0.8"/>
<line x1="376.60" y1="185.70" x2="376.60" y2="189.30" stroke="#333" stroke-width="0.8"/>
<line x1="381.70" y1="185.70" x2="381.70" y2="189.30" stroke="#333" stroke-width="0.8"/>
<line x1="388.70" y1="185.70" x2="388.70" y2="189.30" stroke="#333" stroke-width="0.8"/>
<line x1="392.70" y1="185.70" x2="392.70" y2="189.30" stroke="#333" stroke-width="0.8"/>
<line x1="427.30" y1="185.70" x2="427.30" y2="189.30" stroke="#333" stroke-width="0.8"/>
<line x1="384.00" y1="204.70" x2="384.00" y2="208.30" stroke="#ff3030" stroke-width="0.8"/>
<line x1="389.00" y1="204.70" x2="389.00" y2="208.30" stroke="#ff3030" stroke-width="0.8"/>
<line x1="392.00" y1="204.70" x2="392.00" y2="208.30" stroke="#ff3030" stroke-width="0.8"/>
<line x1="396.00" y1="204.70" x2="396.00" y2="208.30" stroke="#ff3030" stroke-width="0.8"/>
<line x1="400.00" y1="224.10" x2="400.00" y2="227.70" stroke="#ff3030" stroke-width="0.8"/>
<line x1="404.00" y1="224.10" x2="404.00" y2="227.70" stroke="#ff3030" stroke-width="0.8"/>
<line x1="409.90" y1="224.10" x2="409.90" y2="227.70" stroke="#ff3030" stroke-width="0.8"/>
<text x="22.50" y="328.80" font-size="12.9" text-anchor="start" fill="#111" stroke="#111" stroke-width="0.15">D</text>
<text x="135.80" y="322.00" font-size="8.55" text-anchor="middle" fill="#222" stroke="#222" stroke-width="0.1">Kaplan-Meier plot</text>
<rect x="63.10" y="337.00" width="144.90" height="57.80" fill="none" stroke="#4a4a4a" stroke-width="1.1"/>
<line x1="58.80" y1="392.70" x2="63.10" y2="392.70" stroke="#4a4a4a" stroke-width="0.95"/>
<text x="54.50" y="392.70" font-size="6.5" text-anchor="middle" fill="#1a1a1a" stroke="#1a1a1a" stroke-width="0.18" transform="rotate(-90 54.5 392.7)">0.0</text>
<line x1="58.80" y1="382.08" x2="63.10" y2="382.08" stroke="#4a4a4a" stroke-width="0.95"/>
<line x1="58.80" y1="371.46" x2="63.10" y2="371.46" stroke="#4a4a4a" stroke-width="0.95"/>
<text x="54.50" y="371.46" font-size="6.5" text-anchor="middle" fill="#1a1a1a" stroke="#1a1a1a" stroke-width="0.18" transform="rotate(-90 54.5 371.46)">0.4</text>
<line x1="58.80" y1="360.84" x2="63.10" y2="360.84" stroke="#4a4a4a" stroke-width="0.95"/>
<line x1="58.80" y1="350.22" x2="63.10" y2="350.22" stroke="#4a4a4a" stroke-width="0.95"/>
<text x="54.50" y="350.22" font-size="6.5" text-anchor="middle" fill="#1a1a1a" stroke="#1a1a1a" stroke-width="0.18" transform="rotate(-90 54.5 350.21999999999997)">0.8</text>
<line x1="58.80" y1="339.60" x2="63.10" y2="339.60" stroke="#4a4a4a" stroke-width="0.95"/>
<line x1="68.50" y1="394.80" x2="68.50" y2="399.10" stroke="#4a4a4a" stroke-width="0.95"/>
<text x="68.50" y="409.20" font-size="6.4" text-anchor="middle" fill="#1a1a1a" stroke="#1a1a1a" stroke-width="0.18">0</text>
<line x1="99.20" y1="394.80" x2="99.20" y2="399.10" stroke="#4a4a4a" stroke-width="0.95"/>
<text x="99.20" y="409.20" font-size="6.4" text-anchor="middle" fill="#1a1a1a" stroke="#1a1a1a" stroke-width="0.18">20</text>
<line x1="129.90" y1="394.80" x2="129.90" y2="399.10" stroke="#4a4a4a" stroke-width="0.95"/>
<text x="129.90" y="409.20" font-size="6.4" text-anchor="middle" fill="#1a1a1a" stroke="#1a1a1a" stroke-width="0.18">40</text>
<line x1="160.60" y1="394.80" x2="160.60" y2="399.10" stroke="#4a4a4a" stroke-width="0.95"/>
<text x="160.60" y="409.20" font-size="6.4" text-anchor="middle" fill="#1a1a1a" stroke="#1a1a1a" stroke-width="0.18">60</text>
<line x1="191.30" y1="394.80" x2="191.30" y2="399.10" stroke="#4a4a4a" stroke-width="0.95"/>
<text x="191.30" y="409.20" font-size="6.4" text-anchor="middle" fill="#1a1a1a" stroke="#1a1a1a" stroke-width="0.18">80</text>
<text x="135.60" y="421.60" font-size="8.6" text-anchor="middle" fill="#222" stroke="#222" stroke-width="0.1">Months</text>
<line x1="159.70" y1="327.40" x2="162.90" y2="327.40" stroke="#f03030" stroke-width="0.9"/>
<line x1="159.70" y1="333.30" x2="162.90" y2="333.30" stroke="#3030f0" stroke-width="0.9"/>
<text x="167.20" y="330.60" font-size="6.9" text-anchor="start" fill="#222" stroke="#222" stroke-width="0.1">High</text>
<text x="167.20" y="336.30" font-size="6.9" text-anchor="start" fill="#222" stroke="#222" stroke-width="0.1">Low</text>
<text x="184.70" y="330.60" font-size="6.9" text-anchor="start" fill="#222" stroke="#222" stroke-width="0.1">n= 13</text>
<text x="184.70" y="336.30" font-size="6.9" text-anchor="start" fill="#222" stroke="#222" stroke-width="0.1">n= 98</text>
<text x="201.60" y="346.30" font-size="7.3" text-anchor="end" fill="#222" stroke="#222" stroke-width="0.1">GSE3141</text>
<path d="M69.00,339.60 H71.80 V340.35 H74.60 V341.10 H77.40 V341.85 H80.20 V342.60 H82.87 V343.37 H85.53 V344.13 H88.20 V344.90 H90.81 V345.90 H93.43 V346.90 H96.04 V347.90 H98.66 V348.90 H101.27 V349.90 H103.89 V350.90 H106.50 V351.90 H109.11 V352.38 H111.72 V352.86 H114.33 V353.33 H116.94 V353.81 H119.56 V354.29 H122.17 V354.77 H124.78 V355.24 H127.39 V355.72 H130.00 V356.20 H132.83 V356.80 H135.66 V357.40 H138.49 V358.00 H141.31 V358.60 H144.14 V359.20 H146.97 V359.80 H149.80 V360.40 H152.40 V360.80 H155.00 V361.20 H157.60 V361.60 H160.20 V362.00 H201.60 V362.00" fill="none" stroke="#8c8cf4" stroke-width="0.8" stroke-dasharray="1,1.3"/>
<path d="M69.00,339.60 H71.63 V341.13 H74.27 V342.67 H76.90 V344.20 H79.73 V345.95 H82.55 V347.70 H85.38 V349.45 H88.20 V351.20 H90.81 V352.31 H93.43 V353.43 H96.04 V354.54 H98.66 V355.66 H101.27 V356.77 H103.89 V357.89 H106.50 V359.00 H109.04 V359.70 H111.58 V360.40 H114.12 V361.10 H116.66 V361.80 H119.20 V362.50 H121.90 V363.73 H124.60 V364.95 H127.30 V366.17 H130.00 V367.40 H132.68 V367.92 H135.35 V368.45 H138.02 V368.98 H140.70 V369.50 H143.87 V370.33 H147.03 V371.17 H150.20 V372.00 H153.20 V373.50 H156.20 V375.00 H201.60 V375.00" fill="none" stroke="#8c8cf4" stroke-width="0.8" stroke-dasharray="1,1.3"/>
<path d="M69.00,339.60 H85.30 V339.60 H86.30 V347.30 H90.35 V351.35 H94.40 V355.40 H98.40 V362.40 H104.00 V366.00" fill="none" stroke="#f49a9a" stroke-width="0.8" stroke-dasharray="1,1.3"/>
<path d="M71.30,343.50 H71.30 V351.20 H78.30 V351.20 H78.30 V362.50 H84.70 V362.50 H85.50 V378.70 H88.20 V379.40 H94.00 V380.00 H98.10 V383.00 H103.70 V388.60 H120.60 V388.60" fill="none" stroke="#f49a9a" stroke-width="0.8" stroke-dasharray="1,1.3"/>
<path d="M68.50,339.60 H71.07 V340.37 H73.63 V341.13 H76.20 V341.90 H80.20 V343.30 H83.25 V344.80 H86.30 V346.30 H90.30 V348.30 H93.00 V348.97 H95.70 V349.63 H98.40 V350.30 H101.40 V351.30 H104.40 V352.30 H108.50 V355.40 H111.50 V356.70 H114.50 V358.00 H117.55 V359.00 H120.60 V360.00 H123.10 V360.85 H125.60 V361.70 H128.10 V362.55 H130.60 V363.40 H133.12 V363.90 H135.65 V364.40 H138.17 V364.90 H140.70 V365.40 H143.07 V365.92 H145.45 V366.45 H147.82 V366.98 H150.20 V367.50 H154.20 V369.50 H204.60 V369.50" fill="none" stroke="#2626f0" stroke-width="1.2"/>
<path d="M68.5,339.7 H72 V343.5 H78.3 V351.9 H85.4 V360.4 H86.1 V364 H86.8 V368.1 H94.6 V372.4 H98.1 V376.6 H105.1 V380.8 H120.6 V392.8" fill="none" stroke="#f02a2a" stroke-width="1.2"/>
<line x1="78.00" y1="339.93" x2="78.00" y2="345.13" stroke="#2626f0" stroke-width="0.85"/>
<line x1="93.00" y1="346.37" x2="93.00" y2="351.57" stroke="#2626f0" stroke-width="0.85"/>
<line x1="99.00" y1="347.90" x2="99.00" y2="353.10" stroke="#2626f0" stroke-width="0.85"/>
<line x1="111.00" y1="353.88" x2="111.00" y2="359.08" stroke="#2626f0" stroke-width="0.85"/>
<line x1="118.00" y1="356.55" x2="118.00" y2="361.75" stroke="#2626f0" stroke-width="0.85"/>
<line x1="127.00" y1="359.58" x2="127.00" y2="364.78" stroke="#2626f0" stroke-width="0.85"/>
<line x1="133.00" y1="361.28" x2="133.00" y2="366.48" stroke="#2626f0" stroke-width="0.85"/>
<line x1="138.00" y1="362.27" x2="138.00" y2="367.47" stroke="#2626f0" stroke-width="0.85"/>
<line x1="141.00" y1="362.87" x2="141.00" y2="368.07" stroke="#2626f0" stroke-width="0.85"/>
<line x1="145.00" y1="363.75" x2="145.00" y2="368.95" stroke="#2626f0" stroke-width="0.85"/>
<line x1="150.20" y1="364.90" x2="150.20" y2="370.10" stroke="#2626f0" stroke-width="0.85"/>
<line x1="157.00" y1="366.90" x2="157.00" y2="372.10" stroke="#2626f0" stroke-width="0.85"/>
<line x1="159.00" y1="366.90" x2="159.00" y2="372.10" stroke="#2626f0" stroke-width="0.85"/>
<line x1="160.50" y1="366.90" x2="160.50" y2="372.10" stroke="#2626f0" stroke-width="0.85"/>
<line x1="162.00" y1="366.90" x2="162.00" y2="372.10" stroke="#2626f0" stroke-width="0.85"/>
<line x1="164.00" y1="366.90" x2="164.00" y2="372.10" stroke="#2626f0" stroke-width="0.85"/>
<line x1="167.00" y1="366.90" x2="167.00" y2="372.10" stroke="#2626f0" stroke-width="0.85"/>
<line x1="170.00" y1="366.90" x2="170.00" y2="372.10" stroke="#2626f0" stroke-width="0.85"/>
<line x1="174.00" y1="366.90" x2="174.00" y2="372.10" stroke="#2626f0" stroke-width="0.85"/>
<line x1="177.00" y1="366.90" x2="177.00" y2="372.10" stroke="#2626f0" stroke-width="0.85"/>
<line x1="181.00" y1="366.90" x2="181.00" y2="372.10" stroke="#2626f0" stroke-width="0.85"/>
<line x1="186.00" y1="366.90" x2="186.00" y2="372.10" stroke="#2626f0" stroke-width="0.85"/>
<line x1="188.00" y1="366.90" x2="188.00" y2="372.10" stroke="#2626f0" stroke-width="0.85"/>
<line x1="192.00" y1="366.90" x2="192.00" y2="372.10" stroke="#2626f0" stroke-width="0.85"/>
<line x1="196.00" y1="366.90" x2="196.00" y2="372.10" stroke="#2626f0" stroke-width="0.85"/>
<line x1="200.00" y1="366.90" x2="200.00" y2="372.10" stroke="#2626f0" stroke-width="0.85"/>
<line x1="204.60" y1="366.90" x2="204.60" y2="372.10" stroke="#2626f0" stroke-width="0.85"/>
<line x1="110.50" y1="378.60" x2="110.50" y2="383.00" stroke="#f02a2a" stroke-width="0.9"/>
<text x="349.50" y="322.10" font-size="8.55" text-anchor="middle" fill="#222" stroke="#222" stroke-width="0.1">Kaplan-Meier plot</text>
<rect x="277.10" y="337.60" width="143.50" height="57.10" fill="none" stroke="#4a4a4a" stroke-width="1.1"/>
<line x1="272.80" y1="392.60" x2="277.10" y2="392.60" stroke="#4a4a4a" stroke-width="0.95"/>
<text x="268.50" y="392.60" font-size="6.5" text-anchor="middle" fill="#1a1a1a" stroke="#1a1a1a" stroke-width="0.18" transform="rotate(-90 268.5 392.6)">0.0</text>
<line x1="272.80" y1="382.04" x2="277.10" y2="382.04" stroke="#4a4a4a" stroke-width="0.95"/>
<line x1="272.80" y1="371.48" x2="277.10" y2="371.48" stroke="#4a4a4a" stroke-width="0.95"/>
<text x="268.50" y="371.48" font-size="6.5" text-anchor="middle" fill="#1a1a1a" stroke="#1a1a1a" stroke-width="0.18" transform="rotate(-90 268.5 371.48)">0.4</text>
<line x1="272.80" y1="360.92" x2="277.10" y2="360.92" stroke="#4a4a4a" stroke-width="0.95"/>
<line x1="272.80" y1="350.36" x2="277.10" y2="350.36" stroke="#4a4a4a" stroke-width="0.95"/>
<text x="268.50" y="350.36" font-size="6.5" text-anchor="middle" fill="#1a1a1a" stroke="#1a1a1a" stroke-width="0.18" transform="rotate(-90 268.5 350.36)">0.8</text>
<line x1="272.80" y1="339.80" x2="277.10" y2="339.80" stroke="#4a4a4a" stroke-width="0.95"/>
<line x1="282.20" y1="394.70" x2="282.20" y2="399.00" stroke="#4a4a4a" stroke-width="0.95"/>
<text x="282.20" y="409.10" font-size="6.4" text-anchor="middle" fill="#1a1a1a" stroke="#1a1a1a" stroke-width="0.18">0</text>
<line x1="302.10" y1="394.70" x2="302.10" y2="399.00" stroke="#4a4a4a" stroke-width="0.95"/>
<text x="302.10" y="409.10" font-size="6.4" text-anchor="middle" fill="#1a1a1a" stroke="#1a1a1a" stroke-width="0.18">200</text>
<line x1="322.00" y1="394.70" x2="322.00" y2="399.00" stroke="#4a4a4a" stroke-width="0.95"/>
<text x="322.00" y="409.10" font-size="6.4" text-anchor="middle" fill="#1a1a1a" stroke="#1a1a1a" stroke-width="0.18">400</text>
<line x1="341.90" y1="394.70" x2="341.90" y2="399.00" stroke="#4a4a4a" stroke-width="0.95"/>
<text x="341.90" y="409.10" font-size="6.4" text-anchor="middle" fill="#1a1a1a" stroke="#1a1a1a" stroke-width="0.18">600</text>
<line x1="361.80" y1="394.70" x2="361.80" y2="399.00" stroke="#4a4a4a" stroke-width="0.95"/>
<text x="361.80" y="409.10" font-size="6.4" text-anchor="middle" fill="#1a1a1a" stroke="#1a1a1a" stroke-width="0.18">800</text>
<line x1="381.70" y1="394.70" x2="381.70" y2="399.00" stroke="#4a4a4a" stroke-width="0.95"/>
<text x="381.70" y="409.10" font-size="6.4" text-anchor="middle" fill="#1a1a1a" stroke="#1a1a1a" stroke-width="0.18">1000</text>
<line x1="401.60" y1="394.70" x2="401.60" y2="399.00" stroke="#4a4a4a" stroke-width="0.95"/>
<text x="351.90" y="423.50" font-size="8.6" text-anchor="middle" fill="#222" stroke="#222" stroke-width="0.1">Days</text>
<line x1="372.60" y1="327.50" x2="375.80" y2="327.50" stroke="#f03030" stroke-width="0.9"/>
<line x1="372.60" y1="333.40" x2="375.80" y2="333.40" stroke="#3030f0" stroke-width="0.9"/>
<text x="380.10" y="330.70" font-size="6.9" text-anchor="start" fill="#222" stroke="#222" stroke-width="0.1">High</text>
<text x="380.10" y="336.40" font-size="6.9" text-anchor="start" fill="#222" stroke="#222" stroke-width="0.1">Low</text>
<text x="397.60" y="330.70" font-size="6.9" text-anchor="start" fill="#222" stroke="#222" stroke-width="0.1">n= 34</text>
<text x="397.60" y="336.40" font-size="6.9" text-anchor="start" fill="#222" stroke="#222" stroke-width="0.1">n= 7</text>
<text x="416.20" y="346.10" font-size="7.6" text-anchor="end" fill="#222" stroke="#222" stroke-width="0.1">GSE11117</text>
<path d="M282.2,339.8 H414.5" fill="none" stroke="#b4b4f6" stroke-width="0.8" stroke-dasharray="1,1.5"/>
<path d="M323.5,340.2 V358.3 H329.6 V369.4 H414" fill="none" stroke="#8c8cf4" stroke-width="0.8" stroke-dasharray="1,1.3"/>
<path d="M284.20,339.80 H287.20 V340.50 H290.20 V341.20 H292.73 V342.45 H295.25 V343.70 H297.77 V344.95 H300.30 V346.20 H302.82 V347.73 H305.35 V349.25 H307.88 V350.77 H310.40 V352.30 H312.92 V353.55 H315.45 V354.80 H317.98 V356.05 H320.50 V357.30 H323.02 V358.30 H325.55 V359.30 H328.08 V360.30 H330.60 V361.30 H332.00 V362.00 H400.00 V362.00" fill="none" stroke="#f49a9a" stroke-width="0.8" stroke-dasharray="1,1.3"/>
<path d="M282.20,339.80 H285.20 V343.00 H288.20 V346.20 H291.25 V350.25 H294.30 V354.30 H297.30 V357.80 H300.30 V361.30 H302.82 V363.07 H305.35 V364.85 H307.88 V366.62 H310.40 V368.40 H312.92 V370.15 H315.45 V371.90 H317.98 V373.65 H320.50 V375.40 H323.17 V376.77 H325.83 V378.13 H328.50 V379.50 H332.00 V380.20 H400.00 V380.20" fill="none" stroke="#f49a9a" stroke-width="0.8" stroke-dasharray="1,1.3"/>
<path d="M282.2,339.8 H323.5 V347.2 H330.6 V355.4 H415.5" fill="none" stroke="#2a2af0" stroke-width="1.2"/>
<line x1="341.00" y1="353.20" x2="341.00" y2="357.60" stroke="#2a2af0" stroke-width="0.8"/>
<line x1="344.00" y1="353.20" x2="344.00" y2="357.60" stroke="#2a2af0" stroke-width="0.8"/>
<line x1="349.00" y1="353.20" x2="349.00" y2="357.60" stroke="#2a2af0" stroke-width="0.8"/>
<line x1="415.50" y1="353.20" x2="415.50" y2="357.60" stroke="#2a2af0" stroke-width="0.8"/>
<path d="M282.20,339.80 H283.40 V340.28 H284.60 V340.76 H285.80 V341.24 H287.00 V341.72 H288.20 V342.20 H289.75 V344.20 H291.30 V346.20 H292.55 V347.20 H293.80 V348.20 H295.05 V349.20 H296.30 V350.20 H297.63 V352.23 H298.97 V354.27 H300.30 V356.30 H301.67 V357.30 H303.03 V358.30 H304.40 V359.30 H305.60 V360.10 H306.80 V360.90 H308.00 V361.70 H309.20 V362.50 H310.40 V363.30 H311.62 V364.32 H312.84 V365.34 H314.06 V366.36 H315.28 V367.38 H316.50 V368.40 H317.70 V368.88 H318.90 V369.36 H320.10 V369.84 H321.30 V370.32 H322.50 V370.80 H323.85 V371.13 H325.20 V371.47 H326.55 V371.80 H327.90 V372.13 H329.25 V372.47 H330.60 V372.80 H331.81 V372.80 H333.02 V372.80 H334.23 V372.81 H335.44 V372.81 H336.65 V372.81 H337.86 V372.81 H339.07 V372.81 H340.28 V372.81 H341.49 V372.82 H342.70 V372.82 H343.91 V372.82 H345.12 V372.82 H346.33 V372.82 H347.54 V372.82 H348.75 V372.83 H349.96 V372.83 H351.17 V372.83 H352.38 V372.83 H353.59 V372.83 H354.80 V372.83 H356.01 V372.84 H357.22 V372.84 H358.43 V372.84 H359.64 V372.84 H360.85 V372.84 H362.06 V372.84 H363.27 V372.85 H364.48 V372.85 H365.69 V372.85 H366.91 V372.85 H368.12 V372.85 H369.33 V372.85 H370.54 V372.86 H371.75 V372.86 H372.96 V372.86 H374.17 V372.86 H375.38 V372.86 H376.59 V372.86 H377.80 V372.87 H379.01 V372.87 H380.22 V372.87 H381.43 V372.87 H382.64 V372.87 H383.85 V372.87 H385.06 V372.88 H386.27 V372.88 H387.48 V372.88 H388.69 V372.88 H389.90 V372.88 H391.11 V372.88 H392.32 V372.89 H393.53 V372.89 H394.74 V372.89 H395.95 V372.89 H397.16 V372.89 H398.37 V372.89 H399.58 V372.90 H400.79 V372.90 H402.00 V372.90" fill="none" stroke="#f02a2a" stroke-width="1.2"/>
<line x1="325.50" y1="370.70" x2="325.50" y2="375.10" stroke="#f02a2a" stroke-width="0.8"/>
<line x1="335.00" y1="370.70" x2="335.00" y2="375.10" stroke="#f02a2a" stroke-width="0.8"/>
<line x1="336.00" y1="370.70" x2="336.00" y2="375.10" stroke="#f02a2a" stroke-width="0.8"/>
<line x1="342.00" y1="370.70" x2="342.00" y2="375.10" stroke="#f02a2a" stroke-width="0.8"/>
<line x1="346.00" y1="370.70" x2="346.00" y2="375.10" stroke="#f02a2a" stroke-width="0.8"/>
<line x1="351.00" y1="370.70" x2="351.00" y2="375.10" stroke="#f02a2a" stroke-width="0.8"/>
<line x1="363.00" y1="370.70" x2="363.00" y2="375.10" stroke="#f02a2a" stroke-width="0.8"/>
<line x1="371.00" y1="370.70" x2="371.00" y2="375.10" stroke="#f02a2a" stroke-width="0.8"/>
<line x1="372.00" y1="370.70" x2="372.00" y2="375.10" stroke="#f02a2a" stroke-width="0.8"/>
<line x1="373.00" y1="370.70" x2="373.00" y2="375.10" stroke="#f02a2a" stroke-width="0.8"/>
<line x1="402.00" y1="370.70" x2="402.00" y2="375.10" stroke="#f02a2a" stroke-width="0.8"/>
<text x="136.80" y="445.30" font-size="8.55" text-anchor="middle" fill="#222" stroke="#222" stroke-width="0.1">Kaplan-Meier plot</text>
<rect x="67.70" y="459.50" width="142.30" height="56.80" fill="none" stroke="#4a4a4a" stroke-width="1.1"/>
<line x1="63.40" y1="514.70" x2="67.70" y2="514.70" stroke="#4a4a4a" stroke-width="0.95"/>
<text x="59.10" y="514.70" font-size="6.5" text-anchor="middle" fill="#1a1a1a" stroke="#1a1a1a" stroke-width="0.18" transform="rotate(-90 59.1 514.7)">0.0</text>
<line x1="63.40" y1="504.18" x2="67.70" y2="504.18" stroke="#4a4a4a" stroke-width="0.95"/>
<line x1="63.40" y1="493.66" x2="67.70" y2="493.66" stroke="#4a4a4a" stroke-width="0.95"/>
<text x="59.10" y="493.66" font-size="6.5" text-anchor="middle" fill="#1a1a1a" stroke="#1a1a1a" stroke-width="0.18" transform="rotate(-90 59.1 493.66)">0.4</text>
<line x1="63.40" y1="483.14" x2="67.70" y2="483.14" stroke="#4a4a4a" stroke-width="0.95"/>
<line x1="63.40" y1="472.62" x2="67.70" y2="472.62" stroke="#4a4a4a" stroke-width="0.95"/>
<text x="59.10" y="472.62" font-size="6.5" text-anchor="middle" fill="#1a1a1a" stroke="#1a1a1a" stroke-width="0.18" transform="rotate(-90 59.1 472.62000000000006)">0.8</text>
<line x1="63.40" y1="462.10" x2="67.70" y2="462.10" stroke="#4a4a4a" stroke-width="0.95"/>
<line x1="72.30" y1="516.30" x2="72.30" y2="520.60" stroke="#4a4a4a" stroke-width="0.95"/>
<text x="72.30" y="530.70" font-size="6.4" text-anchor="middle" fill="#1a1a1a" stroke="#1a1a1a" stroke-width="0.18">0</text>
<line x1="92.50" y1="516.30" x2="92.50" y2="520.60" stroke="#4a4a4a" stroke-width="0.95"/>
<text x="92.50" y="530.70" font-size="6.4" text-anchor="middle" fill="#1a1a1a" stroke="#1a1a1a" stroke-width="0.18">500</text>
<line x1="112.70" y1="516.30" x2="112.70" y2="520.60" stroke="#4a4a4a" stroke-width="0.95"/>
<text x="112.70" y="530.70" font-size="6.4" text-anchor="middle" fill="#1a1a1a" stroke="#1a1a1a" stroke-width="0.18">1000</text>
<line x1="132.90" y1="516.30" x2="132.90" y2="520.60" stroke="#4a4a4a" stroke-width="0.95"/>
<line x1="153.10" y1="516.30" x2="153.10" y2="520.60" stroke="#4a4a4a" stroke-width="0.95"/>
<text x="153.10" y="530.70" font-size="6.4" text-anchor="middle" fill="#1a1a1a" stroke="#1a1a1a" stroke-width="0.18">2000</text>
<line x1="173.30" y1="516.30" x2="173.30" y2="520.60" stroke="#4a4a4a" stroke-width="0.95"/>
<line x1="193.50" y1="516.30" x2="193.50" y2="520.60" stroke="#4a4a4a" stroke-width="0.95"/>
<text x="193.50" y="530.70" font-size="6.4" text-anchor="middle" fill="#1a1a1a" stroke="#1a1a1a" stroke-width="0.18">3000</text>
<text x="136.50" y="543.90" font-size="8.6" text-anchor="middle" fill="#222" stroke="#222" stroke-width="0.1">Days</text>
<line x1="162.20" y1="449.80" x2="165.40" y2="449.80" stroke="#f03030" stroke-width="0.9"/>
<line x1="162.20" y1="455.70" x2="165.40" y2="455.70" stroke="#3030f0" stroke-width="0.9"/>
<text x="169.70" y="453.00" font-size="6.9" text-anchor="start" fill="#222" stroke="#222" stroke-width="0.1">High</text>
<text x="169.70" y="458.70" font-size="6.9" text-anchor="start" fill="#222" stroke="#222" stroke-width="0.1">Low</text>
<text x="187.20" y="453.00" font-size="6.9" text-anchor="start" fill="#222" stroke="#222" stroke-width="0.1">n= 53</text>
<text x="187.20" y="458.70" font-size="6.9" text-anchor="start" fill="#222" stroke="#222" stroke-width="0.1">n= 64</text>
<text x="203.00" y="467.30" font-size="7.3" text-anchor="end" fill="#222" stroke="#222" stroke-width="0.1">GSE13213</text>
<path d="M94.60,462.10 H98.23 V462.33 H101.87 V462.57 H105.50 V462.80 H109.90 V465.00 H112.95 V465.17 H116.00 V465.34 H119.05 V465.51 H122.10 V465.68 H125.15 V465.85 H128.20 V466.02 H131.25 V466.19 H134.30 V466.36 H137.35 V466.53 H140.40 V466.70 H140.00 V467.90 H155.10 V467.90 H159.70 V470.10 H203.50 V470.10" fill="none" stroke="#8c8cf4" stroke-width="0.8" stroke-dasharray="1,1.3"/>
<path d="M72.30,462.10 H76.10 V462.33 H79.90 V462.57 H83.70 V462.80 H87.33 V464.23 H90.97 V465.67 H94.60 V467.10 H98.23 V468.93 H101.87 V470.77 H105.50 V472.60 H109.13 V473.70 H112.77 V474.80 H116.40 V475.90 H119.40 V476.04 H122.40 V476.17 H125.40 V476.31 H128.40 V476.45 H131.40 V476.59 H134.40 V476.73 H137.40 V476.86 H140.40 V477.00 H144.07 V477.93 H147.75 V478.85 H151.43 V479.77 H155.10 V480.70 H158.90 V481.85 H162.70 V483.00 H167.20 V483.70 H203.50 V483.70" fill="none" stroke="#8c8cf4" stroke-width="0.8" stroke-dasharray="1,1.3"/>
<path d="M72.30,462.10 H83.70 V462.10 H87.33 V463.07 H90.97 V464.03 H94.60 V465.00 H98.23 V466.07 H101.87 V467.13 H105.50 V468.20 H109.85 V469.30 H114.20 V470.40 H117.47 V471.77 H120.75 V473.15 H124.03 V474.52 H127.30 V475.90 H130.57 V476.42 H133.85 V476.95 H137.12 V477.48 H140.40 V478.00 H144.00 V479.75 H147.60 V481.50 H149.00 V485.30 H152.05 V485.65 H155.10 V486.00 H205.00 V486.00" fill="none" stroke="#f49a9a" stroke-width="0.8" stroke-dasharray="1,1.3"/>
<path d="M72.30,462.10 H75.00 V462.80 H79.35 V465.50 H83.70 V468.20 H87.33 V470.03 H90.97 V471.87 H94.60 V473.70 H97.66 V474.36 H100.72 V475.02 H103.78 V475.68 H106.84 V476.34 H109.90 V477.00 H113.53 V479.17 H117.17 V481.33 H120.80 V483.50 H124.05 V486.25 H127.30 V489.00 H130.57 V490.07 H133.85 V491.15 H137.12 V492.23 H140.40 V493.30 H144.70 V494.55 H149.00 V495.80 H152.07 V496.83 H155.13 V497.87 H158.20 V498.90 H188.40 V498.90 H188.40 V503.40 H205.00 V503.40" fill="none" stroke="#f49a9a" stroke-width="0.8" stroke-dasharray="1,1.3"/>
<path d="M72.30,462.10 H87.00 V462.10 H88.00 V463.80 H99.00 V463.80 H102.25 V466.55 H105.50 V469.30 H107.70 V469.85 H109.90 V470.40 H112.52 V470.52 H115.14 V470.64 H117.76 V470.76 H120.38 V470.88 H123.00 V471.00 H125.90 V471.53 H128.80 V472.07 H131.70 V472.60 H134.60 V472.97 H137.50 V473.33 H140.40 V473.70 H142.85 V473.73 H145.30 V473.77 H147.75 V473.80 H150.20 V473.83 H152.65 V473.87 H155.10 V473.90 H157.40 V474.65 H159.70 V475.40 H161.95 V476.55 H164.20 V477.70 H205.00 V477.70" fill="none" stroke="#2a2af0" stroke-width="1.2"/>
<path d="M72.30,462.10 H79.30 V462.10 H82.60 V465.00 H85.13 V466.07 H87.67 V467.13 H90.20 V468.20 H93.13 V468.93 H96.07 V469.67 H99.00 V470.40 H101.90 V470.77 H104.80 V471.13 H107.70 V471.50 H112.00 V473.70 H115.30 V477.00 H117.50 V477.33 H119.70 V477.67 H121.90 V478.00 H126.20 V483.50 H128.95 V484.60 H131.70 V485.70 H134.60 V486.20 H137.50 V486.70 H140.40 V487.20 H143.20 V487.15 H146.00 V487.10 H149.00 V490.60 H152.05 V490.95 H155.10 V491.30 H158.20 V492.80 H188.40 V492.80 H188.40 V497.40 H205.00 V497.40" fill="none" stroke="#f02a2a" stroke-width="1.2"/>
<line x1="137.00" y1="471.70" x2="137.00" y2="476.10" stroke="#2a2af0" stroke-width="0.8"/>
<line x1="145.50" y1="471.70" x2="145.50" y2="476.10" stroke="#2a2af0" stroke-width="0.8"/>
<line x1="149.50" y1="471.70" x2="149.50" y2="476.10" stroke="#2a2af0" stroke-width="0.8"/>
<line x1="151.00" y1="471.70" x2="151.00" y2="476.10" stroke="#2a2af0" stroke-width="0.8"/>
<line x1="152.50" y1="471.70" x2="152.50" y2="476.10" stroke="#2a2af0" stroke-width="0.8"/>
<line x1="154.00" y1="471.70" x2="154.00" y2="476.10" stroke="#2a2af0" stroke-width="0.8"/>
<line x1="163.70" y1="475.50" x2="163.70" y2="479.90" stroke="#2a2af0" stroke-width="0.8"/>
<line x1="166.00" y1="475.50" x2="166.00" y2="479.90" stroke="#2a2af0" stroke-width="0.8"/>
<line x1="169.00" y1="475.50" x2="169.00" y2="479.90" stroke="#2a2af0" stroke-width="0.8"/>
<line x1="173.00" y1="475.50" x2="173.00" y2="479.90" stroke="#2a2af0" stroke-width="0.8"/>
<line x1="176.50" y1="475.50" x2="176.50" y2="479.90" stroke="#2a2af0" stroke-width="0.8"/>
<line x1="178.00" y1="475.50" x2="178.00" y2="479.90" stroke="#2a2af0" stroke-width="0.8"/>
<line x1="181.00" y1="475.50" x2="181.00" y2="479.90" stroke="#2a2af0" stroke-width="0.8"/>
<line x1="183.00" y1="475.50" x2="183.00" y2="479.90" stroke="#2a2af0" stroke-width="0.8"/>
<line x1="185.00" y1="475.50" x2="185.00" y2="479.90" stroke="#2a2af0" stroke-width="0.8"/>
<line x1="187.50" y1="475.50" x2="187.50" y2="479.90" stroke="#2a2af0" stroke-width="0.8"/>
<line x1="191.00" y1="475.50" x2="191.00" y2="479.90" stroke="#2a2af0" stroke-width="0.8"/>
<line x1="193.00" y1="475.50" x2="193.00" y2="479.90" stroke="#2a2af0" stroke-width="0.8"/>
<line x1="196.00" y1="475.50" x2="196.00" y2="479.90" stroke="#2a2af0" stroke-width="0.8"/>
<line x1="200.00" y1="475.50" x2="200.00" y2="479.90" stroke="#2a2af0" stroke-width="0.8"/>
<line x1="201.00" y1="475.50" x2="201.00" y2="479.90" stroke="#2a2af0" stroke-width="0.8"/>
<line x1="204.00" y1="475.50" x2="204.00" y2="479.90" stroke="#2a2af0" stroke-width="0.8"/>
<line x1="146.00" y1="488.30" x2="146.00" y2="492.70" stroke="#f02a2a" stroke-width="0.8"/>
<line x1="147.00" y1="488.30" x2="147.00" y2="492.70" stroke="#f02a2a" stroke-width="0.8"/>
<line x1="150.00" y1="488.30" x2="150.00" y2="492.70" stroke="#f02a2a" stroke-width="0.8"/>
<line x1="152.00" y1="488.30" x2="152.00" y2="492.70" stroke="#f02a2a" stroke-width="0.8"/>
<line x1="154.00" y1="488.30" x2="154.00" y2="492.70" stroke="#f02a2a" stroke-width="0.8"/>
<line x1="156.00" y1="488.30" x2="156.00" y2="492.70" stroke="#f02a2a" stroke-width="0.8"/>
<line x1="159.00" y1="488.30" x2="159.00" y2="492.70" stroke="#f02a2a" stroke-width="0.8"/>
<line x1="160.00" y1="488.30" x2="160.00" y2="492.70" stroke="#f02a2a" stroke-width="0.8"/>
<line x1="167.00" y1="488.30" x2="167.00" y2="492.70" stroke="#f02a2a" stroke-width="0.8"/>
<line x1="170.00" y1="488.30" x2="170.00" y2="492.70" stroke="#f02a2a" stroke-width="0.8"/>
<line x1="164.00" y1="490.60" x2="164.00" y2="495.00" stroke="#f02a2a" stroke-width="0.8"/>
<line x1="166.00" y1="490.60" x2="166.00" y2="495.00" stroke="#f02a2a" stroke-width="0.8"/>
<line x1="167.00" y1="490.60" x2="167.00" y2="495.00" stroke="#f02a2a" stroke-width="0.8"/>
<line x1="170.00" y1="490.60" x2="170.00" y2="495.00" stroke="#f02a2a" stroke-width="0.8"/>
<line x1="204.00" y1="495.20" x2="204.00" y2="499.60" stroke="#f02a2a" stroke-width="0.8"/>
<text x="355.60" y="445.20" font-size="8.55" text-anchor="middle" fill="#222" stroke="#222" stroke-width="0.1">Kaplan-Meier plot</text>
<rect x="280.70" y="460.20" width="143.40" height="56.70" fill="none" stroke="#4a4a4a" stroke-width="1.1"/>
<line x1="276.40" y1="515.60" x2="280.70" y2="515.60" stroke="#4a4a4a" stroke-width="0.95"/>
<text x="272.10" y="515.60" font-size="6.5" text-anchor="middle" fill="#1a1a1a" stroke="#1a1a1a" stroke-width="0.18" transform="rotate(-90 272.09999999999997 515.6)">0.0</text>
<line x1="276.40" y1="504.94" x2="280.70" y2="504.94" stroke="#4a4a4a" stroke-width="0.95"/>
<line x1="276.40" y1="494.28" x2="280.70" y2="494.28" stroke="#4a4a4a" stroke-width="0.95"/>
<text x="272.10" y="494.28" font-size="6.5" text-anchor="middle" fill="#1a1a1a" stroke="#1a1a1a" stroke-width="0.18" transform="rotate(-90 272.09999999999997 494.28000000000003)">0.4</text>
<line x1="276.40" y1="483.62" x2="280.70" y2="483.62" stroke="#4a4a4a" stroke-width="0.95"/>
<line x1="276.40" y1="472.96" x2="280.70" y2="472.96" stroke="#4a4a4a" stroke-width="0.95"/>
<text x="272.10" y="472.96" font-size="6.5" text-anchor="middle" fill="#1a1a1a" stroke="#1a1a1a" stroke-width="0.18" transform="rotate(-90 272.09999999999997 472.96000000000004)">0.8</text>
<line x1="276.40" y1="462.30" x2="280.70" y2="462.30" stroke="#4a4a4a" stroke-width="0.95"/>
<line x1="285.70" y1="516.90" x2="285.70" y2="521.20" stroke="#4a4a4a" stroke-width="0.95"/>
<text x="285.70" y="531.30" font-size="6.4" text-anchor="middle" fill="#1a1a1a" stroke="#1a1a1a" stroke-width="0.18">0</text>
<line x1="320.10" y1="516.90" x2="320.10" y2="521.20" stroke="#4a4a4a" stroke-width="0.95"/>
<text x="320.10" y="531.30" font-size="6.4" text-anchor="middle" fill="#1a1a1a" stroke="#1a1a1a" stroke-width="0.18">1000</text>
<line x1="354.50" y1="516.90" x2="354.50" y2="521.20" stroke="#4a4a4a" stroke-width="0.95"/>
<text x="354.50" y="531.30" font-size="6.4" text-anchor="middle" fill="#1a1a1a" stroke="#1a1a1a" stroke-width="0.18">2000</text>
<line x1="388.90" y1="516.90" x2="388.90" y2="521.20" stroke="#4a4a4a" stroke-width="0.95"/>
<text x="388.90" y="531.30" font-size="6.4" text-anchor="middle" fill="#1a1a1a" stroke="#1a1a1a" stroke-width="0.18">3000</text>
<line x1="423.30" y1="516.90" x2="423.30" y2="521.20" stroke="#4a4a4a" stroke-width="0.95"/>
<text x="423.30" y="531.30" font-size="6.4" text-anchor="middle" fill="#1a1a1a" stroke="#1a1a1a" stroke-width="0.18">4000</text>
<text x="354.80" y="543.50" font-size="8.6" text-anchor="middle" fill="#222" stroke="#222" stroke-width="0.1">Days</text>
<line x1="376.60" y1="450.60" x2="379.80" y2="450.60" stroke="#f03030" stroke-width="0.9"/>
<line x1="376.60" y1="456.50" x2="379.80" y2="456.50" stroke="#3030f0" stroke-width="0.9"/>
<text x="384.10" y="453.80" font-size="6.9" text-anchor="start" fill="#222" stroke="#222" stroke-width="0.1">High</text>
<text x="384.10" y="459.50" font-size="6.9" text-anchor="start" fill="#222" stroke="#222" stroke-width="0.1">Low</text>
<text x="401.60" y="453.80" font-size="6.9" text-anchor="start" fill="#222" stroke="#222" stroke-width="0.1">n= 88</text>
<text x="401.60" y="459.50" font-size="6.9" text-anchor="start" fill="#222" stroke="#222" stroke-width="0.1">n= 116</text>
<text x="416.30" y="467.70" font-size="7.3" text-anchor="end" fill="#222" stroke="#222" stroke-width="0.1">GSE31210</text>
<path d="M285.7,462.3 H377" fill="none" stroke="#8c8cf4" stroke-width="0.8" stroke-dasharray="1,1.3"/>
<path d="M285.70,462.30 H288.76 V462.64 H291.82 V462.98 H294.89 V463.31 H297.95 V463.65 H301.01 V463.99 H304.07 V464.32 H307.14 V464.66 H310.20 V465.00 H313.27 V465.13 H316.34 V465.26 H319.41 V465.39 H322.48 V465.52 H325.54 V465.66 H328.61 V465.79 H331.68 V465.92 H334.75 V466.05 H337.82 V466.18 H340.89 V466.31 H343.96 V466.44 H347.02 V466.58 H350.09 V466.71 H353.16 V466.84 H356.23 V466.97 H359.30 V467.10 H362.86 V467.32 H366.42 V467.54 H369.98 V467.76 H373.54 V467.98 H377.10 V468.20 M377.1,469 V477 H417.8" fill="none" stroke="#8c8cf4" stroke-width="0.8" stroke-dasharray="1,1.3"/>
<path d="M285.70,462.30 H288.70 V462.67 H291.70 V463.03 H294.70 V463.40 H297.70 V463.77 H300.70 V464.13 H303.70 V464.50 H307.10 V465.35 H310.50 V466.20 H313.90 V467.05 H317.30 V467.90 H320.52 V468.54 H323.74 V469.18 H326.96 V469.82 H330.18 V470.46 H333.40 V471.10 H336.62 V471.42 H339.84 V471.74 H343.06 V472.06 H346.28 V472.38 H349.50 V472.70 H355.00 V473.10 H403.7" fill="none" stroke="#f49a9a" stroke-width="0.8" stroke-dasharray="1,1.3"/>
<path d="M290.00,462.30 H293.67 V463.63 H297.33 V464.97 H301.00 V466.30 H304.26 V467.74 H307.52 V469.18 H310.78 V470.62 H314.04 V472.06 H317.30 V473.50 H320.52 V474.64 H323.74 V475.78 H326.96 V476.92 H330.18 V478.06 H333.40 V479.20 H337.45 V481.20 H341.50 V483.20 H344.86 V483.43 H348.21 V483.66 H351.57 V483.89 H354.93 V484.11 H358.29 V484.34 H361.64 V484.57 H365.00 V484.80 V485.3 H403.7" fill="none" stroke="#f49a9a" stroke-width="0.8" stroke-dasharray="1,1.3"/>
<path d="M285.70,462.30 H288.29 V462.33 H290.88 V462.36 H293.47 V462.39 H296.06 V462.42 H298.65 V462.45 H301.24 V462.48 H303.83 V462.51 H306.42 V462.54 H309.01 V462.57 H311.60 V462.60 H314.23 V462.77 H316.86 V462.94 H319.49 V463.11 H322.11 V463.29 H324.74 V463.46 H327.37 V463.63 H330.00 V463.80 H332.79 V463.97 H335.57 V464.14 H338.36 V464.31 H341.14 V464.49 H343.93 V464.66 H346.71 V464.83 H349.50 V465.00 H352.24 V465.02 H354.98 V465.04 H357.72 V465.06 H360.46 V465.08 H363.20 V465.10 H365.94 V465.12 H368.68 V465.14 H371.42 V465.16 H374.16 V465.18 H376.90 V465.20 H376.90 V469.50 H419.90 V469.50" fill="none" stroke="#2a2af0" stroke-width="1.2"/>
<path d="M285.70,462.30 H293.00 V462.30 H295.28 V463.10 H297.56 V463.90 H299.84 V464.70 H302.12 V465.50 H304.40 V466.30 H306.80 V467.50 H309.20 V468.70 H311.46 V469.02 H313.72 V469.34 H315.98 V469.66 H318.24 V469.98 H320.50 V470.30 H322.63 V470.83 H324.77 V471.37 H326.90 V471.90 H329.07 V473.00 H331.23 V474.10 H333.40 V475.20 H335.53 V476.00 H337.67 V476.80 H339.80 V477.60 H341.97 V478.07 H344.13 V478.53 H346.30 V479.00 H362.00 V479.00 H362.00 V481.10 H406.50 V481.10" fill="none" stroke="#f02a2a" stroke-width="1.2"/>
<line x1="311.60" y1="460.60" x2="311.60" y2="464.60" stroke="#2a2af0" stroke-width="0.9"/>
<line x1="313.43" y1="460.72" x2="313.43" y2="464.72" stroke="#2a2af0" stroke-width="0.9"/>
<line x1="315.42" y1="460.85" x2="315.42" y2="464.85" stroke="#2a2af0" stroke-width="0.9"/>
<line x1="317.91" y1="461.01" x2="317.91" y2="465.01" stroke="#2a2af0" stroke-width="0.9"/>
<line x1="319.76" y1="461.13" x2="319.76" y2="465.13" stroke="#2a2af0" stroke-width="0.9"/>
<line x1="321.67" y1="461.26" x2="321.67" y2="465.26" stroke="#2a2af0" stroke-width="0.9"/>
<line x1="323.70" y1="461.39" x2="323.70" y2="465.39" stroke="#2a2af0" stroke-width="0.9"/>
<line x1="325.15" y1="461.48" x2="325.15" y2="465.48" stroke="#2a2af0" stroke-width="0.9"/>
<line x1="327.07" y1="461.61" x2="327.07" y2="465.61" stroke="#2a2af0" stroke-width="0.9"/>
<line x1="329.15" y1="461.74" x2="329.15" y2="465.74" stroke="#2a2af0" stroke-width="0.9"/>
<line x1="331.46" y1="461.89" x2="331.46" y2="465.89" stroke="#2a2af0" stroke-width="0.9"/>
<line x1="332.80" y1="461.97" x2="332.80" y2="465.97" stroke="#2a2af0" stroke-width="0.9"/>
<line x1="334.42" y1="462.07" x2="334.42" y2="466.07" stroke="#2a2af0" stroke-width="0.9"/>
<line x1="335.75" y1="462.15" x2="335.75" y2="466.15" stroke="#2a2af0" stroke-width="0.9"/>
<line x1="338.08" y1="462.30" x2="338.08" y2="466.30" stroke="#2a2af0" stroke-width="0.9"/>
<line x1="340.25" y1="462.43" x2="340.25" y2="466.43" stroke="#2a2af0" stroke-width="0.9"/>
<line x1="341.51" y1="462.51" x2="341.51" y2="466.51" stroke="#2a2af0" stroke-width="0.9"/>
<line x1="344.08" y1="462.67" x2="344.08" y2="466.67" stroke="#2a2af0" stroke-width="0.9"/>
<line x1="346.64" y1="462.82" x2="346.64" y2="466.82" stroke="#2a2af0" stroke-width="0.9"/>
<line x1="348.75" y1="462.95" x2="348.75" y2="466.95" stroke="#2a2af0" stroke-width="0.9"/>
<line x1="350.81" y1="463.01" x2="350.81" y2="467.01" stroke="#2a2af0" stroke-width="0.9"/>
<line x1="352.23" y1="463.02" x2="352.23" y2="467.02" stroke="#2a2af0" stroke-width="0.9"/>
<line x1="353.45" y1="463.03" x2="353.45" y2="467.03" stroke="#2a2af0" stroke-width="0.9"/>
<line x1="355.39" y1="463.04" x2="355.39" y2="467.04" stroke="#2a2af0" stroke-width="0.9"/>
<line x1="356.68" y1="463.05" x2="356.68" y2="467.05" stroke="#2a2af0" stroke-width="0.9"/>
<line x1="358.14" y1="463.06" x2="358.14" y2="467.06" stroke="#2a2af0" stroke-width="0.9"/>
<line x1="359.68" y1="463.07" x2="359.68" y2="467.07" stroke="#2a2af0" stroke-width="0.9"/>
<line x1="360.92" y1="463.08" x2="360.92" y2="467.08" stroke="#2a2af0" stroke-width="0.9"/>
<line x1="362.77" y1="463.10" x2="362.77" y2="467.10" stroke="#2a2af0" stroke-width="0.9"/>
<line x1="364.59" y1="463.11" x2="364.59" y2="467.11" stroke="#2a2af0" stroke-width="0.9"/>
<line x1="366.97" y1="463.13" x2="366.97" y2="467.13" stroke="#2a2af0" stroke-width="0.9"/>
<line x1="368.90" y1="463.14" x2="368.90" y2="467.14" stroke="#2a2af0" stroke-width="0.9"/>
<line x1="370.99" y1="463.16" x2="370.99" y2="467.16" stroke="#2a2af0" stroke-width="0.9"/>
<line x1="372.89" y1="463.17" x2="372.89" y2="467.17" stroke="#2a2af0" stroke-width="0.9"/>
<line x1="375.02" y1="463.19" x2="375.02" y2="467.19" stroke="#2a2af0" stroke-width="0.9"/>
<line x1="376.86" y1="463.20" x2="376.86" y2="467.20" stroke="#2a2af0" stroke-width="0.9"/>
<line x1="382.50" y1="467.30" x2="382.50" y2="471.70" stroke="#2a2af0" stroke-width="0.8"/>
<line x1="384.60" y1="467.30" x2="384.60" y2="471.70" stroke="#2a2af0" stroke-width="0.8"/>
<line x1="386.70" y1="467.30" x2="386.70" y2="471.70" stroke="#2a2af0" stroke-width="0.8"/>
<line x1="388.90" y1="467.30" x2="388.90" y2="471.70" stroke="#2a2af0" stroke-width="0.8"/>
<line x1="391.70" y1="467.30" x2="391.70" y2="471.70" stroke="#2a2af0" stroke-width="0.8"/>
<line x1="395.90" y1="467.30" x2="395.90" y2="471.70" stroke="#2a2af0" stroke-width="0.8"/>
<line x1="397.30" y1="467.30" x2="397.30" y2="471.70" stroke="#2a2af0" stroke-width="0.8"/>
<line x1="399.40" y1="467.30" x2="399.40" y2="471.70" stroke="#2a2af0" stroke-width="0.8"/>
<line x1="400.80" y1="467.30" x2="400.80" y2="471.70" stroke="#2a2af0" stroke-width="0.8"/>
<line x1="419.90" y1="467.30" x2="419.90" y2="471.70" stroke="#2a2af0" stroke-width="0.8"/>
<line x1="306.00" y1="465.10" x2="306.00" y2="469.10" stroke="#f02a2a" stroke-width="0.9"/>
<line x1="310.00" y1="466.81" x2="310.00" y2="470.81" stroke="#f02a2a" stroke-width="0.9"/>
<line x1="319.00" y1="468.09" x2="319.00" y2="472.09" stroke="#f02a2a" stroke-width="0.9"/>
<line x1="321.30" y1="468.50" x2="321.30" y2="472.50" stroke="#f02a2a" stroke-width="0.9"/>
<line x1="323.70" y1="469.10" x2="323.70" y2="473.10" stroke="#f02a2a" stroke-width="0.9"/>
<line x1="326.00" y1="469.68" x2="326.00" y2="473.68" stroke="#f02a2a" stroke-width="0.9"/>
<line x1="333.00" y1="473.00" x2="333.00" y2="477.00" stroke="#f02a2a" stroke-width="0.9"/>
<line x1="334.50" y1="473.61" x2="334.50" y2="477.61" stroke="#f02a2a" stroke-width="0.9"/>
<line x1="336.00" y1="474.18" x2="336.00" y2="478.18" stroke="#f02a2a" stroke-width="0.9"/>
<line x1="337.50" y1="474.74" x2="337.50" y2="478.74" stroke="#f02a2a" stroke-width="0.9"/>
<line x1="343.00" y1="476.29" x2="343.00" y2="480.29" stroke="#f02a2a" stroke-width="0.9"/>
<line x1="345.00" y1="476.72" x2="345.00" y2="480.72" stroke="#f02a2a" stroke-width="0.9"/>
<line x1="346.50" y1="477.00" x2="346.50" y2="481.00" stroke="#f02a2a" stroke-width="0.9"/>
<line x1="348.00" y1="477.00" x2="348.00" y2="481.00" stroke="#f02a2a" stroke-width="0.9"/>
<line x1="350.00" y1="477.00" x2="350.00" y2="481.00" stroke="#f02a2a" stroke-width="0.9"/>
<line x1="352.00" y1="477.00" x2="352.00" y2="481.00" stroke="#f02a2a" stroke-width="0.9"/>
<line x1="354.00" y1="477.00" x2="354.00" y2="481.00" stroke="#f02a2a" stroke-width="0.9"/>
<line x1="355.00" y1="477.00" x2="355.00" y2="481.00" stroke="#f02a2a" stroke-width="0.9"/>
<line x1="360.60" y1="477.00" x2="360.60" y2="481.00" stroke="#f02a2a" stroke-width="0.9"/>
<line x1="364.90" y1="479.10" x2="364.90" y2="483.10" stroke="#f02a2a" stroke-width="0.9"/>
<line x1="366.50" y1="479.10" x2="366.50" y2="483.10" stroke="#f02a2a" stroke-width="0.9"/>
<line x1="368.00" y1="479.10" x2="368.00" y2="483.10" stroke="#f02a2a" stroke-width="0.9"/>
<line x1="370.00" y1="479.10" x2="370.00" y2="483.10" stroke="#f02a2a" stroke-width="0.9"/>
<line x1="372.00" y1="479.10" x2="372.00" y2="483.10" stroke="#f02a2a" stroke-width="0.9"/>
<line x1="374.00" y1="479.10" x2="374.00" y2="483.10" stroke="#f02a2a" stroke-width="0.9"/>
<line x1="376.00" y1="479.10" x2="376.00" y2="483.10" stroke="#f02a2a" stroke-width="0.9"/>
<line x1="378.30" y1="479.10" x2="378.30" y2="483.10" stroke="#f02a2a" stroke-width="0.9"/>
<line x1="386.70" y1="479.10" x2="386.70" y2="483.10" stroke="#f02a2a" stroke-width="0.9"/>
<line x1="388.10" y1="479.10" x2="388.10" y2="483.10" stroke="#f02a2a" stroke-width="0.9"/>
<line x1="391.70" y1="479.10" x2="391.70" y2="483.10" stroke="#f02a2a" stroke-width="0.9"/>
<line x1="403.70" y1="479.10" x2="403.70" y2="483.10" stroke="#f02a2a" stroke-width="0.9"/>
<line x1="405.10" y1="479.10" x2="405.10" y2="483.10" stroke="#f02a2a" stroke-width="0.9"/></svg>
</body></html>
